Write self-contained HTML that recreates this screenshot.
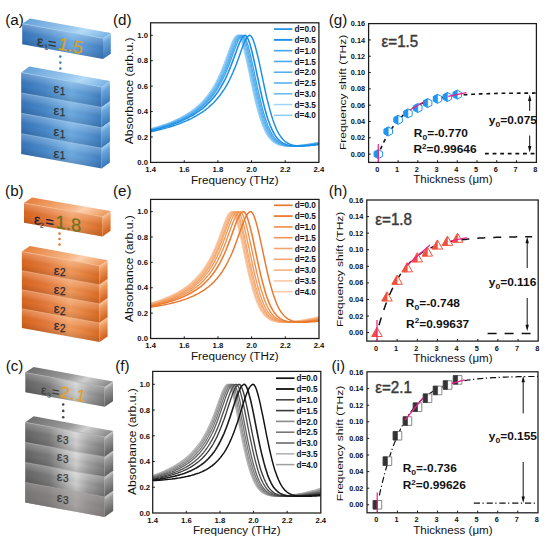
<!DOCTYPE html>
<html><head><meta charset="utf-8"><style>
html,body{margin:0;padding:0;background:#fff;}
svg{display:block;}
text{font-family:"Liberation Sans", sans-serif;}
</style></head><body>
<svg width="550" height="545" viewBox="0 0 550 545">
<rect width="550" height="545" fill="#fff"/>
<defs>
<clipPath id="cd"><rect x="150.60" y="22.80" width="168.30" height="139.60"/></clipPath>
<clipPath id="ce"><rect x="150.60" y="199.40" width="168.40" height="139.10"/></clipPath>
<clipPath id="cf"><rect x="152.70" y="371.40" width="168.10" height="141.60"/></clipPath>
</defs>
<g clip-path="url(#cd)">
<path d="M150.6,128.8 L151.8,128.5 L153.0,128.2 L154.2,127.8 L155.4,127.5 L156.7,127.1 L157.9,126.8 L159.1,126.4 L160.3,126.0 L161.5,125.6 L162.7,125.2 L163.9,124.8 L165.1,124.4 L166.3,123.9 L167.6,123.5 L168.8,123.0 L170.0,122.5 L171.2,122.1 L172.4,121.6 L173.6,121.0 L174.8,120.5 L176.0,119.9 L177.2,119.4 L178.4,118.8 L179.7,118.2 L180.9,117.6 L182.1,116.9 L183.3,116.2 L184.5,115.6 L185.7,114.8 L186.9,114.1 L188.1,113.3 L189.3,112.5 L190.6,111.7 L191.8,110.8 L193.0,109.9 L194.2,109.0 L195.4,108.0 L196.6,107.0 L197.8,106.0 L199.0,104.9 L200.2,103.7 L201.5,102.5 L202.7,101.3 L203.9,99.9 L205.1,98.5 L206.3,97.1 L207.5,95.6 L208.7,93.9 L209.9,92.2 L211.1,90.5 L212.4,88.6 L213.6,86.6 L214.8,84.5 L216.0,82.3 L217.2,79.9 L218.4,77.4 L219.6,74.8 L220.8,72.1 L222.0,69.2 L223.2,66.1 L224.5,63.0 L225.7,59.7 L226.9,56.4 L228.1,53.0 L229.3,49.6 L230.5,46.4 L231.7,43.3 L232.9,40.6 L234.1,38.3 L235.4,36.6 L236.6,35.6 L237.8,35.3 L239.0,36.3 L240.2,38.4 L241.4,41.4 L242.6,45.1 L243.8,49.4 L245.0,54.3 L246.3,59.5 L247.5,65.0 L248.7,70.7 L249.9,76.4 L251.1,82.2 L252.3,87.8 L253.5,93.3 L254.7,98.5 L255.9,103.5 L257.1,108.2 L258.4,112.6 L259.6,116.7 L260.8,120.4 L262.0,123.8 L263.2,126.9 L264.4,129.6 L265.6,132.1 L266.8,134.2 L268.0,136.1 L269.3,137.8 L270.5,139.2 L271.7,140.4 L272.9,141.5 L274.1,142.3 L275.3,143.1 L276.5,143.7 L277.7,144.3 L278.9,144.7 L280.2,145.0 L281.4,145.3 L282.6,145.6 L283.8,145.7 L285.0,145.9 L286.2,145.9 L287.4,146.0 L288.6,146.0 L289.8,146.0 L291.1,146.0 L292.3,146.0 L293.5,145.9 L294.7,145.8 L295.9,145.8 L297.1,145.7 L298.3,145.5 L299.5,145.4 L300.7,145.3 L301.9,145.2 L303.2,145.0 L304.4,144.9 L305.6,144.7 L306.8,144.5 L308.0,144.4 L309.2,144.2 L310.4,144.0 L311.6,143.8 L312.8,143.6 L314.1,143.3 L315.3,143.1 L316.5,142.9 L317.7,142.6 L318.9,142.4" fill="none" stroke="#aadaf8" stroke-width="1.35" stroke-linejoin="round"/>
<path d="M150.6,129.0 L151.8,128.7 L153.0,128.3 L154.2,128.0 L155.4,127.6 L156.7,127.3 L157.9,126.9 L159.1,126.6 L160.3,126.2 L161.5,125.8 L162.7,125.4 L163.9,125.0 L165.1,124.6 L166.3,124.1 L167.6,123.7 L168.8,123.2 L170.0,122.7 L171.2,122.3 L172.4,121.8 L173.6,121.3 L174.8,120.7 L176.0,120.2 L177.2,119.6 L178.4,119.0 L179.7,118.4 L180.9,117.8 L182.1,117.2 L183.3,116.5 L184.5,115.8 L185.7,115.1 L186.9,114.4 L188.1,113.7 L189.3,112.9 L190.6,112.1 L191.8,111.2 L193.0,110.3 L194.2,109.4 L195.4,108.5 L196.6,107.5 L197.8,106.4 L199.0,105.3 L200.2,104.2 L201.5,103.0 L202.7,101.8 L203.9,100.5 L205.1,99.1 L206.3,97.7 L207.5,96.2 L208.7,94.6 L209.9,93.0 L211.1,91.2 L212.4,89.4 L213.6,87.4 L214.8,85.4 L216.0,83.2 L217.2,80.9 L218.4,78.5 L219.6,75.9 L220.8,73.2 L222.0,70.4 L223.2,67.4 L224.5,64.3 L225.7,61.1 L226.9,57.8 L228.1,54.4 L229.3,51.0 L230.5,47.7 L231.7,44.6 L232.9,41.7 L234.1,39.2 L235.4,37.2 L236.6,35.9 L237.8,35.3 L239.0,35.7 L240.2,37.4 L241.4,40.0 L242.6,43.4 L243.8,47.5 L245.0,52.2 L246.3,57.3 L247.5,62.7 L248.7,68.3 L249.9,74.0 L251.1,79.8 L252.3,85.5 L253.5,91.0 L254.7,96.4 L255.9,101.5 L257.1,106.3 L258.4,110.8 L259.6,115.0 L260.8,118.9 L262.0,122.4 L263.2,125.6 L264.4,128.5 L265.6,131.1 L266.8,133.3 L268.0,135.3 L269.3,137.1 L270.5,138.6 L271.7,139.9 L272.9,141.0 L274.1,142.0 L275.3,142.8 L276.5,143.5 L277.7,144.0 L278.9,144.5 L280.2,144.9 L281.4,145.2 L282.6,145.5 L283.8,145.7 L285.0,145.8 L286.2,145.9 L287.4,146.0 L288.6,146.0 L289.8,146.0 L291.1,146.0 L292.3,146.0 L293.5,145.9 L294.7,145.9 L295.9,145.8 L297.1,145.7 L298.3,145.6 L299.5,145.5 L300.7,145.4 L301.9,145.2 L303.2,145.1 L304.4,144.9 L305.6,144.8 L306.8,144.6 L308.0,144.4 L309.2,144.2 L310.4,144.1 L311.6,143.8 L312.8,143.6 L314.1,143.4 L315.3,143.2 L316.5,143.0 L317.7,142.7 L318.9,142.5" fill="none" stroke="#9cd2f6" stroke-width="1.35" stroke-linejoin="round"/>
<path d="M150.6,129.1 L151.8,128.8 L153.0,128.4 L154.2,128.1 L155.4,127.8 L156.7,127.4 L157.9,127.0 L159.1,126.7 L160.3,126.3 L161.5,125.9 L162.7,125.5 L163.9,125.1 L165.1,124.7 L166.3,124.3 L167.6,123.8 L168.8,123.4 L170.0,122.9 L171.2,122.4 L172.4,121.9 L173.6,121.4 L174.8,120.9 L176.0,120.3 L177.2,119.8 L178.4,119.2 L179.7,118.6 L180.9,118.0 L182.1,117.4 L183.3,116.7 L184.5,116.1 L185.7,115.4 L186.9,114.6 L188.1,113.9 L189.3,113.1 L190.6,112.3 L191.8,111.5 L193.0,110.6 L194.2,109.7 L195.4,108.8 L196.6,107.8 L197.8,106.7 L199.0,105.7 L200.2,104.6 L201.5,103.4 L202.7,102.2 L203.9,100.9 L205.1,99.6 L206.3,98.2 L207.5,96.7 L208.7,95.1 L209.9,93.5 L211.1,91.8 L212.4,89.9 L213.6,88.0 L214.8,86.0 L216.0,83.9 L217.2,81.6 L218.4,79.2 L219.6,76.7 L220.8,74.1 L222.0,71.3 L223.2,68.3 L224.5,65.3 L225.7,62.1 L226.9,58.8 L228.1,55.4 L229.3,52.1 L230.5,48.7 L231.7,45.5 L232.9,42.5 L234.1,39.9 L235.4,37.8 L236.6,36.3 L237.8,35.4 L239.0,35.5 L240.2,36.8 L241.4,39.1 L242.6,42.3 L243.8,46.2 L245.0,50.7 L246.3,55.7 L247.5,61.0 L248.7,66.6 L249.9,72.3 L251.1,78.0 L252.3,83.7 L253.5,89.3 L254.7,94.8 L255.9,99.9 L257.1,104.9 L258.4,109.5 L259.6,113.8 L260.8,117.8 L262.0,121.4 L263.2,124.7 L264.4,127.7 L265.6,130.3 L266.8,132.7 L268.0,134.8 L269.3,136.6 L270.5,138.2 L271.7,139.5 L272.9,140.7 L274.1,141.7 L275.3,142.6 L276.5,143.3 L277.7,143.9 L278.9,144.4 L280.2,144.8 L281.4,145.1 L282.6,145.4 L283.8,145.6 L285.0,145.8 L286.2,145.9 L287.4,146.0 L288.6,146.0 L289.8,146.0 L291.1,146.0 L292.3,146.0 L293.5,145.9 L294.7,145.9 L295.9,145.8 L297.1,145.7 L298.3,145.6 L299.5,145.5 L300.7,145.4 L301.9,145.3 L303.2,145.1 L304.4,145.0 L305.6,144.8 L306.8,144.7 L308.0,144.5 L309.2,144.3 L310.4,144.1 L311.6,143.9 L312.8,143.7 L314.1,143.5 L315.3,143.3 L316.5,143.0 L317.7,142.8 L318.9,142.6" fill="none" stroke="#8ac9f4" stroke-width="1.35" stroke-linejoin="round"/>
<path d="M150.6,129.3 L151.8,129.0 L153.0,128.7 L154.2,128.3 L155.4,128.0 L156.7,127.7 L157.9,127.3 L159.1,126.9 L160.3,126.6 L161.5,126.2 L162.7,125.8 L163.9,125.4 L165.1,125.0 L166.3,124.6 L167.6,124.1 L168.8,123.7 L170.0,123.2 L171.2,122.8 L172.4,122.3 L173.6,121.8 L174.8,121.3 L176.0,120.7 L177.2,120.2 L178.4,119.6 L179.7,119.1 L180.9,118.5 L182.1,117.8 L183.3,117.2 L184.5,116.6 L185.7,115.9 L186.9,115.2 L188.1,114.4 L189.3,113.7 L190.6,112.9 L191.8,112.1 L193.0,111.2 L194.2,110.4 L195.4,109.4 L196.6,108.5 L197.8,107.5 L199.0,106.5 L200.2,105.4 L201.5,104.2 L202.7,103.1 L203.9,101.8 L205.1,100.5 L206.3,99.2 L207.5,97.7 L208.7,96.3 L209.9,94.7 L211.1,93.0 L212.4,91.3 L213.6,89.4 L214.8,87.5 L216.0,85.4 L217.2,83.3 L218.4,81.0 L219.6,78.5 L220.8,76.0 L222.0,73.3 L223.2,70.5 L224.5,67.5 L225.7,64.4 L226.9,61.2 L228.1,57.9 L229.3,54.5 L230.5,51.1 L231.7,47.8 L232.9,44.7 L234.1,41.8 L235.4,39.3 L236.6,37.3 L237.8,36.0 L239.0,35.3 L240.2,35.7 L241.4,37.3 L242.6,39.9 L243.8,43.3 L245.0,47.4 L246.3,52.1 L247.5,57.1 L248.7,62.5 L249.9,68.2 L251.1,73.9 L252.3,79.6 L253.5,85.3 L254.7,90.9 L255.9,96.2 L257.1,101.3 L258.4,106.2 L259.6,110.7 L260.8,114.9 L262.0,118.8 L263.2,122.3 L264.4,125.6 L265.6,128.4 L266.8,131.0 L268.0,133.3 L269.3,135.3 L270.5,137.0 L271.7,138.6 L272.9,139.9 L274.1,141.0 L275.3,142.0 L276.5,142.8 L277.7,143.5 L278.9,144.0 L280.2,144.5 L281.4,144.9 L282.6,145.2 L283.8,145.5 L285.0,145.7 L286.2,145.8 L287.4,145.9 L288.6,146.0 L289.8,146.0 L291.1,146.0 L292.3,146.0 L293.5,146.0 L294.7,145.9 L295.9,145.9 L297.1,145.8 L298.3,145.7 L299.5,145.6 L300.7,145.5 L301.9,145.4 L303.2,145.2 L304.4,145.1 L305.6,144.9 L306.8,144.8 L308.0,144.6 L309.2,144.4 L310.4,144.2 L311.6,144.1 L312.8,143.9 L314.1,143.6 L315.3,143.4 L316.5,143.2 L317.7,143.0 L318.9,142.7" fill="none" stroke="#78c0f2" stroke-width="1.35" stroke-linejoin="round"/>
<path d="M150.6,129.6 L151.8,129.3 L153.0,128.9 L154.2,128.6 L155.4,128.3 L156.7,127.9 L157.9,127.6 L159.1,127.2 L160.3,126.9 L161.5,126.5 L162.7,126.1 L163.9,125.7 L165.1,125.3 L166.3,124.9 L167.6,124.5 L168.8,124.1 L170.0,123.6 L171.2,123.2 L172.4,122.7 L173.6,122.2 L174.8,121.7 L176.0,121.2 L177.2,120.7 L178.4,120.1 L179.7,119.5 L180.9,119.0 L182.1,118.4 L183.3,117.7 L184.5,117.1 L185.7,116.4 L186.9,115.8 L188.1,115.1 L189.3,114.3 L190.6,113.6 L191.8,112.8 L193.0,112.0 L194.2,111.1 L195.4,110.2 L196.6,109.3 L197.8,108.3 L199.0,107.3 L200.2,106.3 L201.5,105.2 L202.7,104.1 L203.9,102.9 L205.1,101.6 L206.3,100.3 L207.5,99.0 L208.7,97.5 L209.9,96.0 L211.1,94.4 L212.4,92.8 L213.6,91.0 L214.8,89.1 L216.0,87.2 L217.2,85.1 L218.4,82.9 L219.6,80.6 L220.8,78.2 L222.0,75.6 L223.2,72.9 L224.5,70.0 L225.7,67.0 L226.9,63.9 L228.1,60.7 L229.3,57.4 L230.5,54.0 L231.7,50.6 L232.9,47.3 L234.1,44.2 L235.4,41.4 L236.6,38.9 L237.8,37.0 L239.0,35.8 L240.2,35.3 L241.4,35.9 L242.6,37.7 L243.8,40.4 L245.0,43.9 L246.3,48.1 L247.5,52.8 L248.7,58.0 L249.9,63.4 L251.1,69.0 L252.3,74.8 L253.5,80.5 L254.7,86.2 L255.9,91.7 L257.1,97.0 L258.4,102.1 L259.6,106.9 L260.8,111.4 L262.0,115.5 L263.2,119.4 L264.4,122.9 L265.6,126.0 L266.8,128.8 L268.0,131.4 L269.3,133.6 L270.5,135.6 L271.7,137.3 L272.9,138.8 L274.1,140.1 L275.3,141.2 L276.5,142.1 L277.7,142.9 L278.9,143.6 L280.2,144.1 L281.4,144.6 L282.6,144.9 L283.8,145.3 L285.0,145.5 L286.2,145.7 L287.4,145.8 L288.6,145.9 L289.8,146.0 L291.1,146.0 L292.3,146.0 L293.5,146.0 L294.7,146.0 L295.9,145.9 L297.1,145.9 L298.3,145.8 L299.5,145.7 L300.7,145.6 L301.9,145.5 L303.2,145.3 L304.4,145.2 L305.6,145.1 L306.8,144.9 L308.0,144.8 L309.2,144.6 L310.4,144.4 L311.6,144.2 L312.8,144.0 L314.1,143.8 L315.3,143.6 L316.5,143.4 L317.7,143.2 L318.9,142.9" fill="none" stroke="#66b7f0" stroke-width="1.35" stroke-linejoin="round"/>
<path d="M150.6,129.8 L151.8,129.5 L153.0,129.2 L154.2,128.9 L155.4,128.6 L156.7,128.3 L157.9,127.9 L159.1,127.6 L160.3,127.2 L161.5,126.8 L162.7,126.5 L163.9,126.1 L165.1,125.7 L166.3,125.3 L167.6,124.9 L168.8,124.5 L170.0,124.0 L171.2,123.6 L172.4,123.1 L173.6,122.6 L174.8,122.2 L176.0,121.7 L177.2,121.1 L178.4,120.6 L179.7,120.1 L180.9,119.5 L182.1,118.9 L183.3,118.3 L184.5,117.7 L185.7,117.0 L186.9,116.4 L188.1,115.7 L189.3,115.0 L190.6,114.2 L191.8,113.5 L193.0,112.7 L194.2,111.9 L195.4,111.0 L196.6,110.1 L197.8,109.2 L199.0,108.2 L200.2,107.2 L201.5,106.2 L202.7,105.1 L203.9,104.0 L205.1,102.8 L206.3,101.5 L207.5,100.2 L208.7,98.8 L209.9,97.4 L211.1,95.9 L212.4,94.3 L213.6,92.6 L214.8,90.8 L216.0,89.0 L217.2,87.0 L218.4,84.9 L219.6,82.7 L220.8,80.4 L222.0,77.9 L223.2,75.3 L224.5,72.6 L225.7,69.7 L226.9,66.7 L228.1,63.6 L229.3,60.4 L230.5,57.0 L231.7,53.7 L232.9,50.3 L234.1,47.0 L235.4,43.9 L236.6,41.1 L237.8,38.7 L239.0,36.9 L240.2,35.7 L241.4,35.3 L242.6,36.0 L243.8,37.9 L245.0,40.7 L246.3,44.3 L247.5,48.5 L248.7,53.3 L249.9,58.5 L251.1,63.9 L252.3,69.6 L253.5,75.3 L254.7,81.0 L255.9,86.7 L257.1,92.2 L258.4,97.5 L259.6,102.6 L260.8,107.3 L262.0,111.8 L263.2,115.9 L264.4,119.7 L265.6,123.2 L266.8,126.3 L268.0,129.1 L269.3,131.6 L270.5,133.8 L271.7,135.8 L272.9,137.4 L274.1,138.9 L275.3,140.2 L276.5,141.3 L277.7,142.2 L278.9,143.0 L280.2,143.6 L281.4,144.2 L282.6,144.6 L283.8,145.0 L285.0,145.3 L286.2,145.5 L287.4,145.7 L288.6,145.8 L289.8,145.9 L291.1,146.0 L292.3,146.0 L293.5,146.0 L294.7,146.0 L295.9,146.0 L297.1,145.9 L298.3,145.9 L299.5,145.8 L300.7,145.7 L301.9,145.6 L303.2,145.5 L304.4,145.3 L305.6,145.2 L306.8,145.0 L308.0,144.9 L309.2,144.7 L310.4,144.6 L311.6,144.4 L312.8,144.2 L314.1,144.0 L315.3,143.8 L316.5,143.6 L317.7,143.4 L318.9,143.1" fill="none" stroke="#54adee" stroke-width="1.35" stroke-linejoin="round"/>
<path d="M150.6,130.2 L151.8,129.9 L153.0,129.6 L154.2,129.3 L155.4,128.9 L156.7,128.6 L157.9,128.3 L159.1,128.0 L160.3,127.6 L161.5,127.3 L162.7,126.9 L163.9,126.5 L165.1,126.1 L166.3,125.7 L167.6,125.3 L168.8,124.9 L170.0,124.5 L171.2,124.1 L172.4,123.6 L173.6,123.2 L174.8,122.7 L176.0,122.2 L177.2,121.7 L178.4,121.2 L179.7,120.7 L180.9,120.1 L182.1,119.6 L183.3,119.0 L184.5,118.4 L185.7,117.8 L186.9,117.1 L188.1,116.5 L189.3,115.8 L190.6,115.1 L191.8,114.3 L193.0,113.6 L194.2,112.8 L195.4,112.0 L196.6,111.1 L197.8,110.2 L199.0,109.3 L200.2,108.4 L201.5,107.4 L202.7,106.3 L203.9,105.2 L205.1,104.1 L206.3,102.9 L207.5,101.7 L208.7,100.4 L209.9,99.0 L211.1,97.5 L212.4,96.0 L213.6,94.5 L214.8,92.8 L216.0,91.0 L217.2,89.2 L218.4,87.2 L219.6,85.1 L220.8,83.0 L222.0,80.6 L223.2,78.2 L224.5,75.6 L225.7,72.9 L226.9,70.1 L228.1,67.1 L229.3,64.0 L230.5,60.7 L231.7,57.4 L232.9,54.0 L234.1,50.7 L235.4,47.4 L236.6,44.2 L237.8,41.4 L239.0,39.0 L240.2,37.1 L241.4,35.8 L242.6,35.3 L243.8,35.9 L245.0,37.6 L246.3,40.3 L247.5,43.9 L248.7,48.0 L249.9,52.7 L251.1,57.9 L252.3,63.3 L253.5,68.9 L254.7,74.7 L255.9,80.4 L257.1,86.1 L258.4,91.6 L259.6,96.9 L260.8,102.0 L262.0,106.8 L263.2,111.3 L264.4,115.5 L265.6,119.3 L266.8,122.8 L268.0,126.0 L269.3,128.8 L270.5,131.3 L271.7,133.6 L272.9,135.5 L274.1,137.3 L275.3,138.8 L276.5,140.0 L277.7,141.1 L278.9,142.1 L280.2,142.9 L281.4,143.5 L282.6,144.1 L283.8,144.6 L285.0,144.9 L286.2,145.3 L287.4,145.5 L288.6,145.7 L289.8,145.8 L291.1,145.9 L292.3,146.0 L293.5,146.0 L294.7,146.0 L295.9,146.0 L297.1,146.0 L298.3,145.9 L299.5,145.9 L300.7,145.8 L301.9,145.7 L303.2,145.6 L304.4,145.5 L305.6,145.3 L306.8,145.2 L308.0,145.1 L309.2,144.9 L310.4,144.8 L311.6,144.6 L312.8,144.4 L314.1,144.2 L315.3,144.0 L316.5,143.8 L317.7,143.6 L318.9,143.4" fill="none" stroke="#42a3eb" stroke-width="1.35" stroke-linejoin="round"/>
<path d="M150.6,130.7 L151.8,130.4 L153.0,130.2 L154.2,129.9 L155.4,129.6 L156.7,129.2 L157.9,128.9 L159.1,128.6 L160.3,128.3 L161.5,127.9 L162.7,127.6 L163.9,127.2 L165.1,126.9 L166.3,126.5 L167.6,126.1 L168.8,125.7 L170.0,125.3 L171.2,124.9 L172.4,124.5 L173.6,124.0 L174.8,123.6 L176.0,123.1 L177.2,122.7 L178.4,122.2 L179.7,121.7 L180.9,121.2 L182.1,120.6 L183.3,120.1 L184.5,119.5 L185.7,118.9 L186.9,118.3 L188.1,117.7 L189.3,117.1 L190.6,116.4 L191.8,115.7 L193.0,115.0 L194.2,114.3 L195.4,113.5 L196.6,112.7 L197.8,111.9 L199.0,111.1 L200.2,110.2 L201.5,109.3 L202.7,108.3 L203.9,107.3 L205.1,106.3 L206.3,105.2 L207.5,104.0 L208.7,102.8 L209.9,101.6 L211.1,100.3 L212.4,98.9 L213.6,97.5 L214.8,96.0 L216.0,94.4 L217.2,92.7 L218.4,90.9 L219.6,89.1 L220.8,87.1 L222.0,85.0 L223.2,82.8 L224.5,80.5 L225.7,78.1 L226.9,75.5 L228.1,72.8 L229.3,69.9 L230.5,66.9 L231.7,63.8 L232.9,60.6 L234.1,57.2 L235.4,53.9 L236.6,50.5 L237.8,47.2 L239.0,44.1 L240.2,41.3 L241.4,38.9 L242.6,37.0 L243.8,35.8 L245.0,35.3 L246.3,35.9 L247.5,37.8 L248.7,40.5 L249.9,44.1 L251.1,48.3 L252.3,53.0 L253.5,58.2 L254.7,63.6 L255.9,69.2 L257.1,75.0 L258.4,80.7 L259.6,86.4 L260.8,91.9 L262.0,97.2 L263.2,102.3 L264.4,107.1 L265.6,111.5 L266.8,115.7 L268.0,119.5 L269.3,123.0 L270.5,126.1 L271.7,128.9 L272.9,131.5 L274.1,133.7 L275.3,135.6 L276.5,137.4 L277.7,138.8 L278.9,140.1 L280.2,141.2 L281.4,142.1 L282.6,142.9 L283.8,143.6 L285.0,144.1 L286.2,144.6 L287.4,145.0 L288.6,145.3 L289.8,145.5 L291.1,145.7 L292.3,145.8 L293.5,145.9 L294.7,146.0 L295.9,146.0 L297.1,146.0 L298.3,146.0 L299.5,146.0 L300.7,145.9 L301.9,145.9 L303.2,145.8 L304.4,145.7 L305.6,145.6 L306.8,145.5 L308.0,145.3 L309.2,145.2 L310.4,145.1 L311.6,144.9 L312.8,144.7 L314.1,144.6 L315.3,144.4 L316.5,144.2 L317.7,144.0 L318.9,143.8" fill="none" stroke="#1e8fe6" stroke-width="1.60" stroke-linejoin="round"/>
<path d="M150.6,131.8 L151.8,131.5 L153.0,131.3 L154.2,131.0 L155.4,130.7 L156.7,130.4 L157.9,130.1 L159.1,129.8 L160.3,129.5 L161.5,129.2 L162.7,128.9 L163.9,128.6 L165.1,128.2 L166.3,127.9 L167.6,127.6 L168.8,127.2 L170.0,126.8 L171.2,126.5 L172.4,126.1 L173.6,125.7 L174.8,125.3 L176.0,124.9 L177.2,124.4 L178.4,124.0 L179.7,123.6 L180.9,123.1 L182.1,122.6 L183.3,122.1 L184.5,121.6 L185.7,121.1 L186.9,120.6 L188.1,120.0 L189.3,119.5 L190.6,118.9 L191.8,118.3 L193.0,117.7 L194.2,117.0 L195.4,116.3 L196.6,115.7 L197.8,114.9 L199.0,114.2 L200.2,113.4 L201.5,112.7 L202.7,111.8 L203.9,111.0 L205.1,110.1 L206.3,109.2 L207.5,108.2 L208.7,107.2 L209.9,106.1 L211.1,105.0 L212.4,103.9 L213.6,102.7 L214.8,101.4 L216.0,100.1 L217.2,98.8 L218.4,97.3 L219.6,95.8 L220.8,94.2 L222.0,92.5 L223.2,90.7 L224.5,88.9 L225.7,86.9 L226.9,84.8 L228.1,82.6 L229.3,80.3 L230.5,77.8 L231.7,75.2 L232.9,72.5 L234.1,69.6 L235.4,66.6 L236.6,63.5 L237.8,60.2 L239.0,56.9 L240.2,53.5 L241.4,50.1 L242.6,46.8 L243.8,43.8 L245.0,41.0 L246.3,38.6 L247.5,36.8 L248.7,35.7 L249.9,35.3 L251.1,36.1 L252.3,38.0 L253.5,40.9 L254.7,44.5 L255.9,48.8 L257.1,53.5 L258.4,58.7 L259.6,64.2 L260.8,69.9 L262.0,75.6 L263.2,81.3 L264.4,87.0 L265.6,92.5 L266.8,97.8 L268.0,102.8 L269.3,107.6 L270.5,112.0 L271.7,116.1 L272.9,119.9 L274.1,123.3 L275.3,126.4 L276.5,129.2 L277.7,131.7 L278.9,133.9 L280.2,135.8 L281.4,137.5 L282.6,139.0 L283.8,140.2 L285.0,141.3 L286.2,142.2 L287.4,143.0 L288.6,143.6 L289.8,144.2 L291.1,144.6 L292.3,145.0 L293.5,145.3 L294.7,145.5 L295.9,145.7 L297.1,145.8 L298.3,145.9 L299.5,146.0 L300.7,146.0 L301.9,146.0 L303.2,146.0 L304.4,146.0 L305.6,145.9 L306.8,145.8 L308.0,145.8 L309.2,145.7 L310.4,145.6 L311.6,145.4 L312.8,145.3 L314.1,145.2 L315.3,145.0 L316.5,144.9 L317.7,144.7 L318.9,144.6" fill="none" stroke="#1b8fe4" stroke-width="1.45" stroke-linejoin="round"/>
</g>
<g clip-path="url(#ce)">
<path d="M150.6,303.3 L151.8,302.9 L153.0,302.6 L154.2,302.2 L155.4,301.8 L156.7,301.4 L157.9,301.0 L159.1,300.5 L160.3,300.1 L161.5,299.7 L162.7,299.2 L163.9,298.7 L165.1,298.2 L166.3,297.7 L167.6,297.2 L168.8,296.7 L170.0,296.1 L171.2,295.6 L172.4,295.0 L173.6,294.4 L174.8,293.8 L176.0,293.1 L177.3,292.4 L178.5,291.8 L179.7,291.0 L180.9,290.3 L182.1,289.5 L183.3,288.7 L184.5,287.9 L185.7,287.1 L186.9,286.2 L188.2,285.2 L189.4,284.3 L190.6,283.3 L191.8,282.2 L193.0,281.1 L194.2,280.0 L195.4,278.8 L196.6,277.5 L197.8,276.2 L199.1,274.8 L200.3,273.3 L201.5,271.8 L202.7,270.2 L203.9,268.5 L205.1,266.7 L206.3,264.9 L207.5,262.9 L208.8,260.8 L210.0,258.6 L211.2,256.2 L212.4,253.8 L213.6,251.2 L214.8,248.4 L216.0,245.5 L217.2,242.5 L218.4,239.4 L219.7,236.1 L220.9,232.8 L222.1,229.4 L223.3,226.0 L224.5,222.8 L225.7,219.7 L226.9,217.0 L228.1,214.7 L229.3,213.0 L230.6,211.9 L231.8,211.6 L233.0,212.5 L234.2,214.6 L235.4,217.5 L236.6,221.2 L237.8,225.5 L239.0,230.4 L240.3,235.6 L241.5,241.1 L242.7,246.7 L243.9,252.5 L245.1,258.2 L246.3,263.8 L247.5,269.3 L248.7,274.5 L249.9,279.5 L251.2,284.3 L252.4,288.7 L253.6,292.7 L254.8,296.5 L256.0,299.9 L257.2,302.9 L258.4,305.7 L259.6,308.1 L260.8,310.3 L262.1,312.2 L263.3,313.8 L264.5,315.3 L265.7,316.5 L266.9,317.5 L268.1,318.4 L269.3,319.2 L270.5,319.8 L271.8,320.4 L273.0,320.8 L274.2,321.2 L275.4,321.4 L276.6,321.7 L277.8,321.8 L279.0,322.0 L280.2,322.1 L281.4,322.1 L282.7,322.1 L283.9,322.1 L285.1,322.1 L286.3,322.1 L287.5,322.0 L288.7,321.9 L289.9,321.8 L291.1,321.7 L292.3,321.6 L293.6,321.5 L294.8,321.3 L296.0,321.2 L297.2,321.0 L298.4,320.9 L299.6,320.7 L300.8,320.5 L302.0,320.3 L303.3,320.1 L304.5,319.9 L305.7,319.7 L306.9,319.4 L308.1,319.2 L309.3,319.0 L310.5,318.7 L311.7,318.4 L312.9,318.2 L314.2,317.9 L315.4,317.6 L316.6,317.3 L317.8,317.0 L319.0,316.7" fill="none" stroke="#facdac" stroke-width="1.35" stroke-linejoin="round"/>
<path d="M150.6,303.5 L151.8,303.2 L153.0,302.8 L154.2,302.4 L155.4,302.0 L156.7,301.7 L157.9,301.3 L159.1,300.8 L160.3,300.4 L161.5,300.0 L162.7,299.5 L163.9,299.1 L165.1,298.6 L166.3,298.1 L167.6,297.6 L168.8,297.1 L170.0,296.5 L171.2,296.0 L172.4,295.4 L173.6,294.8 L174.8,294.2 L176.0,293.6 L177.3,293.0 L178.5,292.3 L179.7,291.6 L180.9,290.9 L182.1,290.1 L183.3,289.3 L184.5,288.5 L185.7,287.7 L186.9,286.8 L188.2,285.9 L189.4,285.0 L190.6,284.0 L191.8,282.9 L193.0,281.9 L194.2,280.7 L195.4,279.6 L196.6,278.3 L197.8,277.1 L199.1,275.7 L200.3,274.3 L201.5,272.8 L202.7,271.2 L203.9,269.5 L205.1,267.8 L206.3,266.0 L207.5,264.0 L208.8,262.0 L210.0,259.8 L211.2,257.5 L212.4,255.1 L213.6,252.5 L214.8,249.8 L216.0,247.0 L217.2,244.0 L218.4,240.9 L219.7,237.7 L220.9,234.4 L222.1,231.0 L223.3,227.7 L224.5,224.4 L225.7,221.2 L226.9,218.3 L228.1,215.8 L229.3,213.8 L230.6,212.4 L231.8,211.7 L233.0,211.9 L234.2,213.4 L235.4,215.9 L236.6,219.2 L237.8,223.2 L239.0,227.8 L240.3,232.9 L241.5,238.2 L242.7,243.8 L243.9,249.5 L245.1,255.2 L246.3,260.9 L247.5,266.5 L248.7,271.9 L249.9,277.0 L251.2,281.9 L252.4,286.4 L253.6,290.7 L254.8,294.6 L256.0,298.1 L257.2,301.4 L258.4,304.3 L259.6,306.9 L260.8,309.2 L262.1,311.2 L263.3,313.0 L264.5,314.6 L265.7,315.9 L266.9,317.0 L268.1,318.0 L269.3,318.8 L270.5,319.5 L271.8,320.1 L273.0,320.6 L274.2,321.0 L275.4,321.3 L276.6,321.6 L277.8,321.8 L279.0,321.9 L280.2,322.0 L281.4,322.1 L282.7,322.1 L283.9,322.1 L285.1,322.1 L286.3,322.1 L287.5,322.0 L288.7,322.0 L289.9,321.9 L291.1,321.8 L292.3,321.7 L293.6,321.6 L294.8,321.5 L296.0,321.3 L297.2,321.2 L298.4,321.0 L299.6,320.8 L300.8,320.7 L302.0,320.5 L303.3,320.3 L304.5,320.1 L305.7,319.9 L306.9,319.7 L308.1,319.5 L309.3,319.2 L310.5,319.0 L311.7,318.7 L312.9,318.5 L314.2,318.2 L315.4,317.9 L316.6,317.7 L317.8,317.4 L319.0,317.1" fill="none" stroke="#f9c49c" stroke-width="1.35" stroke-linejoin="round"/>
<path d="M150.6,303.8 L151.8,303.4 L153.0,303.1 L154.2,302.7 L155.4,302.3 L156.7,302.0 L157.9,301.6 L159.1,301.2 L160.3,300.8 L161.5,300.3 L162.7,299.9 L163.9,299.5 L165.1,299.0 L166.3,298.5 L167.6,298.0 L168.8,297.5 L170.0,297.0 L171.2,296.5 L172.4,295.9 L173.6,295.4 L174.8,294.8 L176.0,294.2 L177.3,293.5 L178.5,292.9 L179.7,292.2 L180.9,291.5 L182.1,290.8 L183.3,290.0 L184.5,289.2 L185.7,288.4 L186.9,287.6 L188.2,286.7 L189.4,285.8 L190.6,284.8 L191.8,283.8 L193.0,282.8 L194.2,281.7 L195.4,280.5 L196.6,279.3 L197.8,278.1 L199.1,276.7 L200.3,275.4 L201.5,273.9 L202.7,272.4 L203.9,270.8 L205.1,269.0 L206.3,267.3 L207.5,265.4 L208.8,263.4 L210.0,261.2 L211.2,259.0 L212.4,256.7 L213.6,254.2 L214.8,251.5 L216.0,248.8 L217.2,245.9 L218.4,242.8 L219.7,239.7 L220.9,236.4 L222.1,233.1 L223.3,229.7 L224.5,226.3 L225.7,223.1 L226.9,220.0 L228.1,217.2 L229.3,214.9 L230.6,213.1 L231.8,212.0 L233.0,211.6 L234.2,212.3 L235.4,214.2 L236.6,217.1 L237.8,220.7 L239.0,224.9 L240.3,229.7 L241.5,234.8 L242.7,240.3 L243.9,245.9 L245.1,251.7 L246.3,257.4 L247.5,263.0 L248.7,268.5 L249.9,273.8 L251.2,278.9 L252.4,283.6 L253.6,288.1 L254.8,292.2 L256.0,296.0 L257.2,299.4 L258.4,302.5 L259.6,305.3 L260.8,307.8 L262.1,310.0 L263.3,311.9 L264.5,313.6 L265.7,315.1 L266.9,316.3 L268.1,317.4 L269.3,318.3 L270.5,319.1 L271.8,319.8 L273.0,320.3 L274.2,320.7 L275.4,321.1 L276.6,321.4 L277.8,321.6 L279.0,321.8 L280.2,322.0 L281.4,322.1 L282.7,322.1 L283.9,322.1 L285.1,322.2 L286.3,322.1 L287.5,322.1 L288.7,322.0 L289.9,322.0 L291.1,321.9 L292.3,321.8 L293.6,321.7 L294.8,321.6 L296.0,321.5 L297.2,321.3 L298.4,321.2 L299.6,321.0 L300.8,320.9 L302.0,320.7 L303.3,320.5 L304.5,320.3 L305.7,320.1 L306.9,319.9 L308.1,319.7 L309.3,319.5 L310.5,319.3 L311.7,319.0 L312.9,318.8 L314.2,318.5 L315.4,318.3 L316.6,318.0 L317.8,317.8 L319.0,317.5" fill="none" stroke="#f7ba8c" stroke-width="1.35" stroke-linejoin="round"/>
<path d="M150.6,304.2 L151.8,303.8 L153.0,303.5 L154.2,303.2 L155.4,302.8 L156.7,302.5 L157.9,302.1 L159.1,301.7 L160.3,301.3 L161.5,300.9 L162.7,300.5 L163.9,300.1 L165.1,299.6 L166.3,299.2 L167.6,298.7 L168.8,298.2 L170.0,297.7 L171.2,297.2 L172.4,296.7 L173.6,296.2 L174.8,295.6 L176.0,295.0 L177.3,294.4 L178.5,293.8 L179.7,293.2 L180.9,292.5 L182.1,291.8 L183.3,291.1 L184.5,290.3 L185.7,289.6 L186.9,288.8 L188.2,287.9 L189.4,287.1 L190.6,286.1 L191.8,285.2 L193.0,284.2 L194.2,283.2 L195.4,282.1 L196.6,280.9 L197.8,279.7 L199.1,278.5 L200.3,277.2 L201.5,275.8 L202.7,274.4 L203.9,272.8 L205.1,271.2 L206.3,269.5 L207.5,267.7 L208.8,265.8 L210.0,263.8 L211.2,261.7 L212.4,259.5 L213.6,257.1 L214.8,254.7 L216.0,252.0 L217.2,249.3 L218.4,246.4 L219.7,243.3 L220.9,240.2 L222.1,236.9 L223.3,233.6 L224.5,230.2 L225.7,226.8 L226.9,223.5 L228.1,220.5 L229.3,217.7 L230.6,215.3 L231.8,213.4 L233.0,212.2 L234.2,211.6 L235.4,212.1 L236.6,213.8 L237.8,216.5 L239.0,219.9 L240.3,224.1 L241.5,228.8 L242.7,233.9 L243.9,239.3 L245.1,244.9 L246.3,250.6 L247.5,256.4 L248.7,262.0 L249.9,267.5 L251.2,272.9 L252.4,278.0 L253.6,282.8 L254.8,287.3 L256.0,291.5 L257.2,295.3 L258.4,298.8 L259.6,302.0 L260.8,304.8 L262.1,307.4 L263.3,309.6 L264.5,311.6 L265.7,313.3 L266.9,314.8 L268.1,316.1 L269.3,317.2 L270.5,318.2 L271.8,319.0 L273.0,319.6 L274.2,320.2 L275.4,320.7 L276.6,321.1 L277.8,321.4 L279.0,321.6 L280.2,321.8 L281.4,321.9 L282.7,322.0 L283.9,322.1 L285.1,322.2 L286.3,322.2 L287.5,322.2 L288.7,322.1 L289.9,322.1 L291.1,322.0 L292.3,321.9 L293.6,321.8 L294.8,321.8 L296.0,321.6 L297.2,321.5 L298.4,321.4 L299.6,321.3 L300.8,321.1 L302.0,321.0 L303.3,320.8 L304.5,320.6 L305.7,320.5 L306.9,320.3 L308.1,320.1 L309.3,319.9 L310.5,319.7 L311.7,319.5 L312.9,319.2 L314.2,319.0 L315.4,318.8 L316.6,318.5 L317.8,318.3 L319.0,318.0" fill="none" stroke="#f6b07c" stroke-width="1.35" stroke-linejoin="round"/>
<path d="M150.6,304.5 L151.8,304.2 L153.0,303.9 L154.2,303.5 L155.4,303.2 L156.7,302.8 L157.9,302.5 L159.1,302.1 L160.3,301.8 L161.5,301.4 L162.7,301.0 L163.9,300.6 L165.1,300.2 L166.3,299.7 L167.6,299.3 L168.8,298.8 L170.0,298.4 L171.2,297.9 L172.4,297.4 L173.6,296.9 L174.8,296.3 L176.0,295.8 L177.3,295.2 L178.5,294.6 L179.7,294.0 L180.9,293.3 L182.1,292.7 L183.3,292.0 L184.5,291.3 L185.7,290.5 L186.9,289.8 L188.2,289.0 L189.4,288.1 L190.6,287.3 L191.8,286.4 L193.0,285.4 L194.2,284.4 L195.4,283.4 L196.6,282.3 L197.8,281.1 L199.1,279.9 L200.3,278.7 L201.5,277.4 L202.7,276.0 L203.9,274.5 L205.1,273.0 L206.3,271.4 L207.5,269.6 L208.8,267.8 L210.0,265.9 L211.2,263.9 L212.4,261.8 L213.6,259.5 L214.8,257.1 L216.0,254.6 L217.2,252.0 L218.4,249.2 L219.7,246.2 L220.9,243.2 L222.1,240.0 L223.3,236.7 L224.5,233.4 L225.7,230.0 L226.9,226.6 L228.1,223.4 L229.3,220.3 L230.6,217.5 L231.8,215.2 L233.0,213.3 L234.2,212.1 L235.4,211.6 L236.6,212.1 L237.8,213.9 L239.0,216.6 L240.3,220.1 L241.5,224.2 L242.7,228.9 L243.9,234.0 L245.1,239.4 L246.3,245.1 L247.5,250.8 L248.7,256.5 L249.9,262.2 L251.2,267.7 L252.4,273.0 L253.6,278.1 L254.8,282.9 L256.0,287.4 L257.2,291.6 L258.4,295.4 L259.6,298.9 L260.8,302.1 L262.1,304.9 L263.3,307.4 L264.5,309.7 L265.7,311.6 L266.9,313.4 L268.1,314.9 L269.3,316.2 L270.5,317.3 L271.8,318.2 L273.0,319.0 L274.2,319.7 L275.4,320.2 L276.6,320.7 L277.8,321.1 L279.0,321.4 L280.2,321.6 L281.4,321.8 L282.7,322.0 L283.9,322.1 L285.1,322.1 L286.3,322.2 L287.5,322.2 L288.7,322.2 L289.9,322.1 L291.1,322.1 L292.3,322.0 L293.6,322.0 L294.8,321.9 L296.0,321.8 L297.2,321.7 L298.4,321.6 L299.6,321.4 L300.8,321.3 L302.0,321.2 L303.3,321.0 L304.5,320.9 L305.7,320.7 L306.9,320.5 L308.1,320.4 L309.3,320.2 L310.5,320.0 L311.7,319.8 L312.9,319.6 L314.2,319.4 L315.4,319.2 L316.6,318.9 L317.8,318.7 L319.0,318.4" fill="none" stroke="#f4a56b" stroke-width="1.35" stroke-linejoin="round"/>
<path d="M150.6,305.0 L151.8,304.7 L153.0,304.4 L154.2,304.1 L155.4,303.8 L156.7,303.5 L157.9,303.1 L159.1,302.8 L160.3,302.4 L161.5,302.1 L162.7,301.7 L163.9,301.3 L165.1,300.9 L166.3,300.5 L167.6,300.1 L168.8,299.7 L170.0,299.3 L171.2,298.8 L172.4,298.4 L173.6,297.9 L174.8,297.4 L176.0,296.9 L177.3,296.3 L178.5,295.8 L179.7,295.2 L180.9,294.6 L182.1,294.0 L183.3,293.3 L184.5,292.7 L185.7,292.0 L186.9,291.3 L188.2,290.5 L189.4,289.8 L190.6,288.9 L191.8,288.1 L193.0,287.2 L194.2,286.3 L195.4,285.3 L196.6,284.3 L197.8,283.3 L199.1,282.2 L200.3,281.0 L201.5,279.8 L202.7,278.5 L203.9,277.2 L205.1,275.7 L206.3,274.2 L207.5,272.7 L208.8,271.0 L210.0,269.2 L211.2,267.4 L212.4,265.4 L213.6,263.3 L214.8,261.1 L216.0,258.8 L217.2,256.4 L218.4,253.8 L219.7,251.1 L220.9,248.2 L222.1,245.2 L223.3,242.1 L224.5,238.8 L225.7,235.5 L226.9,232.1 L228.1,228.7 L229.3,225.4 L230.6,222.2 L231.8,219.2 L233.0,216.6 L234.2,214.4 L235.4,212.8 L236.6,211.9 L237.8,211.6 L239.0,212.6 L240.3,214.7 L241.5,217.6 L242.7,221.4 L243.9,225.7 L245.1,230.6 L246.3,235.8 L247.5,241.3 L248.7,246.9 L249.9,252.7 L251.2,258.4 L252.4,264.0 L253.6,269.5 L254.8,274.7 L256.0,279.7 L257.2,284.4 L258.4,288.8 L259.6,292.9 L260.8,296.6 L262.1,300.0 L263.3,303.0 L264.5,305.8 L265.7,308.2 L266.9,310.4 L268.1,312.2 L269.3,313.9 L270.5,315.3 L271.8,316.5 L273.0,317.6 L274.2,318.5 L275.4,319.2 L276.6,319.9 L277.8,320.4 L279.0,320.8 L280.2,321.2 L281.4,321.5 L282.7,321.7 L283.9,321.9 L285.1,322.0 L286.3,322.1 L287.5,322.1 L288.7,322.2 L289.9,322.2 L291.1,322.2 L292.3,322.1 L293.6,322.1 L294.8,322.0 L296.0,322.0 L297.2,321.9 L298.4,321.8 L299.6,321.7 L300.8,321.6 L302.0,321.5 L303.3,321.3 L304.5,321.2 L305.7,321.1 L306.9,320.9 L308.1,320.7 L309.3,320.6 L310.5,320.4 L311.7,320.2 L312.9,320.1 L314.2,319.9 L315.4,319.7 L316.6,319.5 L317.8,319.2 L319.0,319.0" fill="none" stroke="#f29a5b" stroke-width="1.35" stroke-linejoin="round"/>
<path d="M150.6,305.5 L151.8,305.3 L153.0,305.0 L154.2,304.7 L155.4,304.4 L156.7,304.1 L157.9,303.8 L159.1,303.5 L160.3,303.2 L161.5,302.9 L162.7,302.5 L163.9,302.2 L165.1,301.8 L166.3,301.5 L167.6,301.1 L168.8,300.7 L170.0,300.3 L171.2,299.9 L172.4,299.5 L173.6,299.0 L174.8,298.6 L176.0,298.1 L177.3,297.6 L178.5,297.1 L179.7,296.6 L180.9,296.0 L182.1,295.5 L183.3,294.9 L184.5,294.3 L185.7,293.7 L186.9,293.0 L188.2,292.3 L189.4,291.6 L190.6,290.9 L191.8,290.1 L193.0,289.3 L194.2,288.5 L195.4,287.6 L196.6,286.7 L197.8,285.7 L199.1,284.7 L200.3,283.7 L201.5,282.6 L202.7,281.4 L203.9,280.2 L205.1,278.9 L206.3,277.5 L207.5,276.1 L208.8,274.6 L210.0,273.0 L211.2,271.4 L212.4,269.6 L213.6,267.7 L214.8,265.8 L216.0,263.7 L217.2,261.5 L218.4,259.1 L219.7,256.6 L220.9,254.0 L222.1,251.3 L223.3,248.4 L224.5,245.4 L225.7,242.2 L226.9,239.0 L228.1,235.7 L229.3,232.3 L230.6,228.9 L231.8,225.5 L233.0,222.3 L234.2,219.4 L235.4,216.7 L236.6,214.6 L237.8,212.9 L239.0,211.9 L240.3,211.6 L241.5,212.5 L242.7,214.5 L243.9,217.4 L245.1,221.0 L246.3,225.3 L247.5,230.1 L248.7,235.3 L249.9,240.8 L251.2,246.5 L252.4,252.2 L253.6,257.9 L254.8,263.5 L256.0,269.0 L257.2,274.3 L258.4,279.3 L259.6,284.0 L260.8,288.5 L262.1,292.5 L263.3,296.3 L264.5,299.7 L265.7,302.8 L266.9,305.5 L268.1,308.0 L269.3,310.2 L270.5,312.1 L271.8,313.8 L273.0,315.2 L274.2,316.4 L275.4,317.5 L276.6,318.4 L277.8,319.2 L279.0,319.8 L280.2,320.3 L281.4,320.8 L282.7,321.1 L283.9,321.4 L285.1,321.7 L286.3,321.9 L287.5,322.0 L288.7,322.1 L289.9,322.1 L291.1,322.2 L292.3,322.2 L293.6,322.2 L294.8,322.2 L296.0,322.1 L297.2,322.1 L298.4,322.0 L299.6,321.9 L300.8,321.8 L302.0,321.7 L303.3,321.6 L304.5,321.5 L305.7,321.4 L306.9,321.3 L308.1,321.1 L309.3,321.0 L310.5,320.9 L311.7,320.7 L312.9,320.5 L314.2,320.4 L315.4,320.2 L316.6,320.0 L317.8,319.8 L319.0,319.6" fill="none" stroke="#f08f4c" stroke-width="1.35" stroke-linejoin="round"/>
<path d="M150.6,306.2 L151.8,305.9 L153.0,305.7 L154.2,305.4 L155.4,305.2 L156.7,304.9 L157.9,304.7 L159.1,304.4 L160.3,304.1 L161.5,303.8 L162.7,303.5 L163.9,303.2 L165.1,302.9 L166.3,302.6 L167.6,302.2 L168.8,301.9 L170.0,301.5 L171.2,301.1 L172.4,300.8 L173.6,300.4 L174.8,300.0 L176.0,299.6 L177.3,299.1 L178.5,298.7 L179.7,298.2 L180.9,297.7 L182.1,297.2 L183.3,296.7 L184.5,296.2 L185.7,295.6 L186.9,295.0 L188.2,294.4 L189.4,293.8 L190.6,293.2 L191.8,292.5 L193.0,291.8 L194.2,291.0 L195.4,290.3 L196.6,289.5 L197.8,288.6 L199.1,287.8 L200.3,286.8 L201.5,285.9 L202.7,284.9 L203.9,283.8 L205.1,282.7 L206.3,281.5 L207.5,280.3 L208.8,279.0 L210.0,277.6 L211.2,276.1 L212.4,274.6 L213.6,273.0 L214.8,271.3 L216.0,269.5 L217.2,267.5 L218.4,265.5 L219.7,263.4 L220.9,261.1 L222.1,258.7 L223.3,256.2 L224.5,253.5 L225.7,250.7 L226.9,247.7 L228.1,244.6 L229.3,241.4 L230.6,238.1 L231.8,234.7 L233.0,231.3 L234.2,227.9 L235.4,224.6 L236.6,221.5 L237.8,218.6 L239.0,216.1 L240.3,214.1 L241.5,212.6 L242.7,211.8 L243.9,211.7 L245.1,212.8 L246.3,215.0 L247.5,218.1 L248.7,221.9 L249.9,226.3 L251.2,231.2 L252.4,236.5 L253.6,242.0 L254.8,247.7 L256.0,253.5 L257.2,259.2 L258.4,264.8 L259.6,270.2 L260.8,275.4 L262.1,280.4 L263.3,285.0 L264.5,289.4 L265.7,293.4 L266.9,297.1 L268.1,300.4 L269.3,303.4 L270.5,306.1 L271.8,308.5 L273.0,310.6 L274.2,312.5 L275.4,314.1 L276.6,315.5 L277.8,316.7 L279.0,317.7 L280.2,318.6 L281.4,319.3 L282.7,319.9 L283.9,320.4 L285.1,320.9 L286.3,321.2 L287.5,321.5 L288.7,321.7 L289.9,321.9 L291.1,322.0 L292.3,322.1 L293.6,322.2 L294.8,322.2 L296.0,322.2 L297.2,322.2 L298.4,322.2 L299.6,322.1 L300.8,322.1 L302.0,322.0 L303.3,321.9 L304.5,321.9 L305.7,321.8 L306.9,321.7 L308.1,321.6 L309.3,321.4 L310.5,321.3 L311.7,321.2 L312.9,321.1 L314.2,320.9 L315.4,320.8 L316.6,320.6 L317.8,320.4 L319.0,320.3" fill="none" stroke="#ec7f35" stroke-width="1.60" stroke-linejoin="round"/>
<path d="M150.6,307.2 L151.8,307.0 L153.0,306.8 L154.2,306.6 L155.4,306.4 L156.7,306.2 L157.9,306.0 L159.1,305.8 L160.3,305.6 L161.5,305.4 L162.7,305.1 L163.9,304.9 L165.1,304.7 L166.3,304.4 L167.6,304.1 L168.8,303.9 L170.0,303.6 L171.2,303.3 L172.4,303.0 L173.6,302.7 L174.8,302.4 L176.0,302.1 L177.3,301.8 L178.5,301.4 L179.7,301.1 L180.9,300.7 L182.1,300.3 L183.3,299.9 L184.5,299.5 L185.7,299.1 L186.9,298.6 L188.2,298.2 L189.4,297.7 L190.6,297.2 L191.8,296.7 L193.0,296.2 L194.2,295.6 L195.4,295.0 L196.6,294.4 L197.8,293.8 L199.1,293.1 L200.3,292.4 L201.5,291.7 L202.7,290.9 L203.9,290.1 L205.1,289.3 L206.3,288.4 L207.5,287.5 L208.8,286.6 L210.0,285.5 L211.2,284.5 L212.4,283.4 L213.6,282.2 L214.8,280.9 L216.0,279.6 L217.2,278.2 L218.4,276.7 L219.7,275.2 L220.9,273.5 L222.1,271.8 L223.3,269.9 L224.5,267.9 L225.7,265.9 L226.9,263.7 L228.1,261.3 L229.3,258.8 L230.6,256.2 L231.8,253.5 L233.0,250.6 L234.2,247.6 L235.4,244.4 L236.6,241.1 L237.8,237.8 L239.0,234.3 L240.3,230.9 L241.5,227.5 L242.7,224.2 L243.9,221.2 L245.1,218.3 L246.3,215.9 L247.5,214.0 L248.7,212.6 L249.9,211.8 L251.2,211.7 L252.4,212.9 L253.6,215.1 L254.8,218.2 L256.0,222.0 L257.2,226.4 L258.4,231.4 L259.6,236.6 L260.8,242.2 L262.1,247.8 L263.3,253.6 L264.5,259.3 L265.7,264.9 L266.9,270.3 L268.1,275.5 L269.3,280.5 L270.5,285.1 L271.8,289.5 L273.0,293.5 L274.2,297.1 L275.4,300.5 L276.6,303.5 L277.8,306.2 L279.0,308.6 L280.2,310.7 L281.4,312.5 L282.7,314.1 L283.9,315.5 L285.1,316.7 L286.3,317.7 L287.5,318.6 L288.7,319.3 L289.9,319.9 L291.1,320.5 L292.3,320.9 L293.6,321.2 L294.8,321.5 L296.0,321.7 L297.2,321.9 L298.4,322.0 L299.6,322.1 L300.8,322.2 L302.0,322.2 L303.3,322.2 L304.5,322.2 L305.7,322.2 L306.9,322.2 L308.1,322.1 L309.3,322.0 L310.5,322.0 L311.7,321.9 L312.9,321.8 L314.2,321.7 L315.4,321.6 L316.6,321.5 L317.8,321.4 L319.0,321.3" fill="none" stroke="#e8772e" stroke-width="1.45" stroke-linejoin="round"/>
</g>
<g clip-path="url(#cf)">
<path d="M152.7,475.5 L153.9,475.1 L155.1,474.6 L156.3,474.2 L157.5,473.8 L158.7,473.3 L160.0,472.8 L161.2,472.3 L162.4,471.8 L163.6,471.3 L164.8,470.8 L166.0,470.2 L167.2,469.6 L168.4,469.0 L169.6,468.4 L170.8,467.8 L172.0,467.2 L173.3,466.5 L174.5,465.8 L175.7,465.1 L176.9,464.4 L178.1,463.6 L179.3,462.8 L180.5,462.0 L181.7,461.1 L182.9,460.2 L184.1,459.3 L185.4,458.3 L186.6,457.3 L187.8,456.2 L189.0,455.1 L190.2,454.0 L191.4,452.8 L192.6,451.5 L193.8,450.2 L195.0,448.8 L196.2,447.4 L197.4,445.9 L198.7,444.2 L199.9,442.6 L201.1,440.8 L202.3,438.9 L203.5,436.9 L204.7,434.8 L205.9,432.6 L207.1,430.3 L208.3,427.8 L209.5,425.2 L210.7,422.5 L212.0,419.6 L213.2,416.6 L214.4,413.4 L215.6,410.2 L216.8,406.8 L218.0,403.4 L219.2,400.0 L220.4,396.6 L221.6,393.4 L222.8,390.6 L224.1,388.1 L225.3,386.1 L226.5,384.9 L227.7,384.3 L228.9,384.9 L230.1,386.9 L231.3,389.9 L232.5,393.8 L233.7,398.5 L234.9,403.7 L236.1,409.4 L237.4,415.3 L238.6,421.5 L239.8,427.6 L241.0,433.8 L242.2,439.8 L243.4,445.6 L244.6,451.1 L245.8,456.3 L247.0,461.1 L248.2,465.6 L249.4,469.6 L250.7,473.3 L251.9,476.7 L253.1,479.6 L254.3,482.2 L255.5,484.5 L256.7,486.5 L257.9,488.2 L259.1,489.6 L260.3,490.9 L261.5,491.9 L262.8,492.8 L264.0,493.5 L265.2,494.1 L266.4,494.6 L267.6,495.0 L268.8,495.3 L270.0,495.6 L271.2,495.8 L272.4,495.9 L273.6,496.0 L274.8,496.1 L276.1,496.2 L277.3,496.2 L278.5,496.1 L279.7,496.1 L280.9,496.1 L282.1,496.0 L283.3,495.9 L284.5,495.8 L285.7,495.7 L286.9,495.6 L288.1,495.5 L289.4,495.3 L290.6,495.2 L291.8,495.0 L293.0,494.8 L294.2,494.7 L295.4,494.5 L296.6,494.3 L297.8,494.0 L299.0,493.8 L300.2,493.6 L301.5,493.4 L302.7,493.1 L303.9,492.9 L305.1,492.6 L306.3,492.3 L307.5,492.0 L308.7,491.7 L309.9,491.4 L311.1,491.1 L312.3,490.8 L313.5,490.5 L314.8,490.1 L316.0,489.8 L317.2,489.4 L318.4,489.0 L319.6,488.7 L320.8,488.3" fill="none" stroke="#b6b6b6" stroke-width="1.35" stroke-linejoin="round"/>
<path d="M152.7,476.0 L153.9,475.6 L155.1,475.2 L156.3,474.8 L157.5,474.4 L158.7,474.0 L160.0,473.5 L161.2,473.1 L162.4,472.6 L163.6,472.1 L164.8,471.6 L166.0,471.1 L167.2,470.5 L168.4,470.0 L169.6,469.4 L170.8,468.8 L172.0,468.2 L173.3,467.6 L174.5,466.9 L175.7,466.2 L176.9,465.5 L178.1,464.8 L179.3,464.0 L180.5,463.3 L181.7,462.4 L182.9,461.6 L184.1,460.7 L185.4,459.8 L186.6,458.8 L187.8,457.8 L189.0,456.8 L190.2,455.7 L191.4,454.5 L192.6,453.3 L193.8,452.0 L195.0,450.7 L196.2,449.3 L197.4,447.8 L198.7,446.3 L199.9,444.7 L201.1,443.0 L202.3,441.1 L203.5,439.2 L204.7,437.2 L205.9,435.1 L207.1,432.8 L208.3,430.4 L209.5,427.9 L210.7,425.2 L212.0,422.4 L213.2,419.4 L214.4,416.3 L215.6,413.1 L216.8,409.8 L218.0,406.4 L219.2,402.9 L220.4,399.5 L221.6,396.1 L222.8,393.0 L224.1,390.2 L225.3,387.8 L226.5,385.9 L227.7,384.7 L228.9,384.3 L230.1,385.1 L231.3,387.2 L232.5,390.4 L233.7,394.4 L234.9,399.2 L236.1,404.5 L237.4,410.2 L238.6,416.2 L239.8,422.3 L241.0,428.5 L242.2,434.6 L243.4,440.6 L244.6,446.3 L245.8,451.8 L247.0,457.0 L248.2,461.7 L249.4,466.2 L250.7,470.2 L251.9,473.8 L253.1,477.1 L254.3,480.0 L255.5,482.5 L256.7,484.8 L257.9,486.7 L259.1,488.4 L260.3,489.8 L261.5,491.0 L262.8,492.0 L264.0,492.9 L265.2,493.6 L266.4,494.2 L267.6,494.7 L268.8,495.0 L270.0,495.4 L271.2,495.6 L272.4,495.8 L273.6,496.0 L274.8,496.1 L276.1,496.1 L277.3,496.2 L278.5,496.2 L279.7,496.2 L280.9,496.1 L282.1,496.1 L283.3,496.0 L284.5,495.9 L285.7,495.9 L286.9,495.8 L288.1,495.6 L289.4,495.5 L290.6,495.4 L291.8,495.2 L293.0,495.1 L294.2,494.9 L295.4,494.8 L296.6,494.6 L297.8,494.4 L299.0,494.2 L300.2,494.0 L301.5,493.8 L302.7,493.6 L303.9,493.3 L305.1,493.1 L306.3,492.8 L307.5,492.6 L308.7,492.3 L309.9,492.0 L311.1,491.8 L312.3,491.5 L313.5,491.2 L314.8,490.9 L316.0,490.5 L317.2,490.2 L318.4,489.9 L319.6,489.5 L320.8,489.2" fill="none" stroke="#a6a6a6" stroke-width="1.35" stroke-linejoin="round"/>
<path d="M152.7,476.6 L153.9,476.2 L155.1,475.8 L156.3,475.4 L157.5,475.0 L158.7,474.6 L160.0,474.2 L161.2,473.8 L162.4,473.3 L163.6,472.9 L164.8,472.4 L166.0,471.9 L167.2,471.4 L168.4,470.9 L169.6,470.4 L170.8,469.8 L172.0,469.2 L173.3,468.6 L174.5,468.0 L175.7,467.4 L176.9,466.7 L178.1,466.0 L179.3,465.3 L180.5,464.6 L181.7,463.8 L182.9,463.0 L184.1,462.2 L185.4,461.3 L186.6,460.4 L187.8,459.4 L189.0,458.4 L190.2,457.4 L191.4,456.3 L192.6,455.1 L193.8,453.9 L195.0,452.6 L196.2,451.3 L197.4,449.9 L198.7,448.4 L199.9,446.9 L201.1,445.2 L202.3,443.4 L203.5,441.6 L204.7,439.6 L205.9,437.6 L207.1,435.4 L208.3,433.1 L209.5,430.6 L210.7,428.0 L212.0,425.3 L213.2,422.4 L214.4,419.4 L215.6,416.2 L216.8,412.9 L218.0,409.5 L219.2,406.1 L220.4,402.6 L221.6,399.1 L222.8,395.8 L224.1,392.7 L225.3,389.9 L226.5,387.5 L227.7,385.8 L228.9,384.7 L230.1,384.3 L231.3,385.2 L232.5,387.5 L233.7,390.7 L234.9,394.8 L236.1,399.7 L237.4,405.0 L238.6,410.7 L239.8,416.8 L241.0,422.9 L242.2,429.1 L243.4,435.2 L244.6,441.2 L245.8,446.9 L247.0,452.3 L248.2,457.4 L249.4,462.2 L250.7,466.6 L251.9,470.5 L253.1,474.2 L254.3,477.4 L255.5,480.2 L256.7,482.8 L257.9,485.0 L259.1,486.9 L260.3,488.5 L261.5,489.9 L262.8,491.1 L264.0,492.1 L265.2,493.0 L266.4,493.7 L267.6,494.2 L268.8,494.7 L270.0,495.1 L271.2,495.4 L272.4,495.6 L273.6,495.8 L274.8,496.0 L276.1,496.1 L277.3,496.1 L278.5,496.2 L279.7,496.2 L280.9,496.2 L282.1,496.2 L283.3,496.1 L284.5,496.0 L285.7,496.0 L286.9,495.9 L288.1,495.8 L289.4,495.7 L290.6,495.6 L291.8,495.5 L293.0,495.3 L294.2,495.2 L295.4,495.0 L296.6,494.9 L297.8,494.7 L299.0,494.5 L300.2,494.4 L301.5,494.2 L302.7,494.0 L303.9,493.8 L305.1,493.6 L306.3,493.3 L307.5,493.1 L308.7,492.9 L309.9,492.6 L311.1,492.4 L312.3,492.1 L313.5,491.8 L314.8,491.6 L316.0,491.3 L317.2,491.0 L318.4,490.7 L319.6,490.4 L320.8,490.0" fill="none" stroke="#929292" stroke-width="1.35" stroke-linejoin="round"/>
<path d="M152.7,477.2 L153.9,476.9 L155.1,476.5 L156.3,476.2 L157.5,475.8 L158.7,475.4 L160.0,475.0 L161.2,474.7 L162.4,474.2 L163.6,473.8 L164.8,473.4 L166.0,473.0 L167.2,472.5 L168.4,472.0 L169.6,471.5 L170.8,471.0 L172.0,470.5 L173.3,469.9 L174.5,469.4 L175.7,468.8 L176.9,468.2 L178.1,467.5 L179.3,466.9 L180.5,466.2 L181.7,465.5 L182.9,464.7 L184.1,463.9 L185.4,463.1 L186.6,462.3 L187.8,461.4 L189.0,460.5 L190.2,459.5 L191.4,458.5 L192.6,457.4 L193.8,456.3 L195.0,455.1 L196.2,453.8 L197.4,452.5 L198.7,451.1 L199.9,449.6 L201.1,448.1 L202.3,446.5 L203.5,444.7 L204.7,442.9 L205.9,440.9 L207.1,438.9 L208.3,436.7 L209.5,434.3 L210.7,431.9 L212.0,429.3 L213.2,426.5 L214.4,423.6 L215.6,420.6 L216.8,417.4 L218.0,414.1 L219.2,410.7 L220.4,407.2 L221.6,403.7 L222.8,400.2 L224.1,396.8 L225.3,393.6 L226.5,390.7 L227.7,388.2 L228.9,386.2 L230.1,384.9 L231.3,384.3 L232.5,384.8 L233.7,386.7 L234.9,389.6 L236.1,393.5 L237.4,398.1 L238.6,403.3 L239.8,408.9 L241.0,414.9 L242.2,421.0 L243.4,427.2 L244.6,433.3 L245.8,439.3 L247.0,445.2 L248.2,450.7 L249.4,455.9 L250.7,460.8 L251.9,465.3 L253.1,469.4 L254.3,473.1 L255.5,476.4 L256.7,479.4 L257.9,482.0 L259.1,484.3 L260.3,486.3 L261.5,488.0 L262.8,489.5 L264.0,490.8 L265.2,491.8 L266.4,492.7 L267.6,493.5 L268.8,494.1 L270.0,494.6 L271.2,495.0 L272.4,495.3 L273.6,495.6 L274.8,495.8 L276.1,495.9 L277.3,496.0 L278.5,496.1 L279.7,496.2 L280.9,496.2 L282.1,496.2 L283.3,496.2 L284.5,496.1 L285.7,496.1 L286.9,496.0 L288.1,496.0 L289.4,495.9 L290.6,495.8 L291.8,495.7 L293.0,495.6 L294.2,495.5 L295.4,495.3 L296.6,495.2 L297.8,495.1 L299.0,494.9 L300.2,494.8 L301.5,494.6 L302.7,494.4 L303.9,494.2 L305.1,494.1 L306.3,493.9 L307.5,493.7 L308.7,493.5 L309.9,493.2 L311.1,493.0 L312.3,492.8 L313.5,492.5 L314.8,492.3 L316.0,492.0 L317.2,491.8 L318.4,491.5 L319.6,491.2 L320.8,491.0" fill="none" stroke="#7c7c7c" stroke-width="1.35" stroke-linejoin="round"/>
<path d="M152.7,477.8 L153.9,477.5 L155.1,477.2 L156.3,476.9 L157.5,476.6 L158.7,476.2 L160.0,475.9 L161.2,475.5 L162.4,475.2 L163.6,474.8 L164.8,474.4 L166.0,474.0 L167.2,473.6 L168.4,473.2 L169.6,472.7 L170.8,472.2 L172.0,471.8 L173.3,471.3 L174.5,470.8 L175.7,470.2 L176.9,469.7 L178.1,469.1 L179.3,468.5 L180.5,467.9 L181.7,467.2 L182.9,466.5 L184.1,465.8 L185.4,465.1 L186.6,464.3 L187.8,463.5 L189.0,462.6 L190.2,461.7 L191.4,460.8 L192.6,459.8 L193.8,458.8 L195.0,457.7 L196.2,456.5 L197.4,455.3 L198.7,454.0 L199.9,452.7 L201.1,451.2 L202.3,449.7 L203.5,448.1 L204.7,446.4 L205.9,444.6 L207.1,442.7 L208.3,440.6 L209.5,438.5 L210.7,436.2 L212.0,433.7 L213.2,431.1 L214.4,428.4 L215.6,425.5 L216.8,422.5 L218.0,419.3 L219.2,416.0 L220.4,412.6 L221.6,409.0 L222.8,405.5 L224.1,401.9 L225.3,398.4 L226.5,395.1 L227.7,392.0 L228.9,389.3 L230.1,387.1 L231.3,385.5 L232.5,384.5 L233.7,384.4 L234.9,385.6 L236.1,388.0 L237.4,391.5 L238.6,395.7 L239.8,400.6 L241.0,406.1 L242.2,411.9 L243.4,417.9 L244.6,424.1 L245.8,430.3 L247.0,436.4 L248.2,442.3 L249.4,447.9 L250.7,453.3 L251.9,458.4 L253.1,463.1 L254.3,467.4 L255.5,471.3 L256.7,474.8 L257.9,478.0 L259.1,480.8 L260.3,483.2 L261.5,485.4 L262.8,487.2 L264.0,488.8 L265.2,490.2 L266.4,491.3 L267.6,492.3 L268.8,493.1 L270.0,493.8 L271.2,494.3 L272.4,494.8 L273.6,495.1 L274.8,495.4 L276.1,495.7 L277.3,495.9 L278.5,496.0 L279.7,496.1 L280.9,496.2 L282.1,496.2 L283.3,496.2 L284.5,496.2 L285.7,496.2 L286.9,496.2 L288.1,496.1 L289.4,496.0 L290.6,496.0 L291.8,495.9 L293.0,495.8 L294.2,495.7 L295.4,495.6 L296.6,495.5 L297.8,495.4 L299.0,495.3 L300.2,495.1 L301.5,495.0 L302.7,494.8 L303.9,494.7 L305.1,494.5 L306.3,494.4 L307.5,494.2 L308.7,494.0 L309.9,493.8 L311.1,493.6 L312.3,493.4 L313.5,493.2 L314.8,493.0 L316.0,492.8 L317.2,492.6 L318.4,492.3 L319.6,492.1 L320.8,491.8" fill="none" stroke="#666666" stroke-width="1.35" stroke-linejoin="round"/>
<path d="M152.7,478.6 L153.9,478.4 L155.1,478.1 L156.3,477.8 L157.5,477.5 L158.7,477.2 L160.0,476.9 L161.2,476.6 L162.4,476.3 L163.6,476.0 L164.8,475.6 L166.0,475.3 L167.2,474.9 L168.4,474.6 L169.6,474.2 L170.8,473.8 L172.0,473.4 L173.3,472.9 L174.5,472.5 L175.7,472.0 L176.9,471.5 L178.1,471.0 L179.3,470.5 L180.5,469.9 L181.7,469.4 L182.9,468.8 L184.1,468.2 L185.4,467.5 L186.6,466.8 L187.8,466.1 L189.0,465.4 L190.2,464.6 L191.4,463.8 L192.6,462.9 L193.8,462.0 L195.0,461.0 L196.2,460.0 L197.4,459.0 L198.7,457.8 L199.9,456.6 L201.1,455.4 L202.3,454.0 L203.5,452.6 L204.7,451.1 L205.9,449.5 L207.1,447.8 L208.3,446.0 L209.5,444.1 L210.7,442.1 L212.0,439.9 L213.2,437.6 L214.4,435.2 L215.6,432.6 L216.8,429.8 L218.0,426.9 L219.2,423.9 L220.4,420.7 L221.6,417.3 L222.8,413.8 L224.1,410.3 L225.3,406.7 L226.5,403.1 L227.7,399.5 L228.9,396.1 L230.1,392.9 L231.3,390.1 L232.5,387.7 L233.7,385.9 L234.9,384.7 L236.1,384.3 L237.4,385.0 L238.6,387.1 L239.8,390.3 L241.0,394.3 L242.2,399.0 L243.4,404.3 L244.6,410.0 L245.8,416.0 L247.0,422.1 L248.2,428.3 L249.4,434.4 L250.7,440.4 L251.9,446.2 L253.1,451.6 L254.3,456.8 L255.5,461.6 L256.7,466.0 L257.9,470.1 L259.1,473.7 L260.3,477.0 L261.5,479.9 L262.8,482.5 L264.0,484.7 L265.2,486.6 L266.4,488.3 L267.6,489.8 L268.8,491.0 L270.0,492.0 L271.2,492.9 L272.4,493.6 L273.6,494.2 L274.8,494.6 L276.1,495.0 L277.3,495.4 L278.5,495.6 L279.7,495.8 L280.9,496.0 L282.1,496.1 L283.3,496.1 L284.5,496.2 L285.7,496.2 L286.9,496.2 L288.1,496.2 L289.4,496.2 L290.6,496.2 L291.8,496.1 L293.0,496.1 L294.2,496.0 L295.4,495.9 L296.6,495.8 L297.8,495.7 L299.0,495.6 L300.2,495.5 L301.5,495.4 L302.7,495.3 L303.9,495.2 L305.1,495.1 L306.3,494.9 L307.5,494.8 L308.7,494.6 L309.9,494.5 L311.1,494.3 L312.3,494.2 L313.5,494.0 L314.8,493.8 L316.0,493.6 L317.2,493.4 L318.4,493.2 L319.6,493.0 L320.8,492.8" fill="none" stroke="#505050" stroke-width="1.35" stroke-linejoin="round"/>
<path d="M152.7,479.3 L153.9,479.1 L155.1,478.9 L156.3,478.6 L157.5,478.4 L158.7,478.1 L160.0,477.9 L161.2,477.6 L162.4,477.4 L163.6,477.1 L164.8,476.8 L166.0,476.5 L167.2,476.2 L168.4,475.9 L169.6,475.5 L170.8,475.2 L172.0,474.9 L173.3,474.5 L174.5,474.1 L175.7,473.7 L176.9,473.3 L178.1,472.9 L179.3,472.4 L180.5,472.0 L181.7,471.5 L182.9,471.0 L184.1,470.4 L185.4,469.9 L186.6,469.3 L187.8,468.7 L189.0,468.0 L190.2,467.4 L191.4,466.7 L192.6,465.9 L193.8,465.1 L195.0,464.3 L196.2,463.4 L197.4,462.5 L198.7,461.5 L199.9,460.5 L201.1,459.4 L202.3,458.3 L203.5,457.0 L204.7,455.7 L205.9,454.4 L207.1,452.9 L208.3,451.3 L209.5,449.7 L210.7,447.9 L212.0,446.0 L213.2,444.0 L214.4,441.8 L215.6,439.5 L216.8,437.1 L218.0,434.5 L219.2,431.8 L220.4,428.8 L221.6,425.8 L222.8,422.6 L224.1,419.2 L225.3,415.7 L226.5,412.1 L227.7,408.4 L228.9,404.8 L230.1,401.1 L231.3,397.6 L232.5,394.3 L233.7,391.3 L234.9,388.7 L236.1,386.6 L237.4,385.2 L238.6,384.4 L239.8,384.5 L241.0,386.0 L242.2,388.7 L243.4,392.3 L244.6,396.7 L245.8,401.8 L247.0,407.3 L248.2,413.2 L249.4,419.3 L250.7,425.4 L251.9,431.6 L253.1,437.7 L254.3,443.5 L255.5,449.2 L256.7,454.5 L257.9,459.4 L259.1,464.0 L260.3,468.2 L261.5,472.1 L262.8,475.5 L264.0,478.6 L265.2,481.3 L266.4,483.7 L267.6,485.8 L268.8,487.6 L270.0,489.1 L271.2,490.4 L272.4,491.6 L273.6,492.5 L274.8,493.3 L276.1,493.9 L277.3,494.4 L278.5,494.9 L279.7,495.2 L280.9,495.5 L282.1,495.7 L283.3,495.9 L284.5,496.0 L285.7,496.1 L286.9,496.2 L288.1,496.2 L289.4,496.2 L290.6,496.2 L291.8,496.2 L293.0,496.2 L294.2,496.2 L295.4,496.1 L296.6,496.1 L297.8,496.0 L299.0,495.9 L300.2,495.9 L301.5,495.8 L302.7,495.7 L303.9,495.6 L305.1,495.5 L306.3,495.4 L307.5,495.3 L308.7,495.2 L309.9,495.0 L311.1,494.9 L312.3,494.8 L313.5,494.6 L314.8,494.5 L316.0,494.3 L317.2,494.2 L318.4,494.0 L319.6,493.9 L320.8,493.7" fill="none" stroke="#3a3a3a" stroke-width="1.35" stroke-linejoin="round"/>
<path d="M152.7,480.1 L153.9,480.0 L155.1,479.8 L156.3,479.6 L157.5,479.4 L158.7,479.2 L160.0,479.1 L161.2,478.9 L162.4,478.7 L163.6,478.4 L164.8,478.2 L166.0,478.0 L167.2,477.8 L168.4,477.5 L169.6,477.3 L170.8,477.0 L172.0,476.7 L173.3,476.5 L174.5,476.2 L175.7,475.9 L176.9,475.6 L178.1,475.2 L179.3,474.9 L180.5,474.5 L181.7,474.2 L182.9,473.8 L184.1,473.4 L185.4,472.9 L186.6,472.5 L187.8,472.0 L189.0,471.5 L190.2,471.0 L191.4,470.5 L192.6,469.9 L193.8,469.3 L195.0,468.6 L196.2,468.0 L197.4,467.3 L198.7,466.5 L199.9,465.7 L201.1,464.9 L202.3,464.0 L203.5,463.1 L204.7,462.1 L205.9,461.0 L207.1,459.9 L208.3,458.7 L209.5,457.4 L210.7,456.0 L212.0,454.6 L213.2,453.0 L214.4,451.4 L215.6,449.6 L216.8,447.7 L218.0,445.7 L219.2,443.5 L220.4,441.2 L221.6,438.7 L222.8,436.1 L224.1,433.3 L225.3,430.3 L226.5,427.2 L227.7,423.9 L228.9,420.5 L230.1,416.9 L231.3,413.2 L232.5,409.5 L233.7,405.8 L234.9,402.0 L236.1,398.4 L237.4,395.1 L238.6,392.0 L239.8,389.3 L241.0,387.1 L242.2,385.5 L243.4,384.5 L244.6,384.3 L245.8,385.5 L247.0,387.9 L248.2,391.3 L249.4,395.6 L250.7,400.5 L251.9,405.9 L253.1,411.7 L254.3,417.7 L255.5,423.9 L256.7,430.1 L257.9,436.1 L259.1,442.1 L260.3,447.8 L261.5,453.1 L262.8,458.2 L264.0,462.9 L265.2,467.2 L266.4,471.1 L267.6,474.7 L268.8,477.9 L270.0,480.7 L271.2,483.1 L272.4,485.3 L273.6,487.2 L274.8,488.8 L276.1,490.1 L277.3,491.3 L278.5,492.3 L279.7,493.1 L280.9,493.8 L282.1,494.3 L283.3,494.8 L284.5,495.1 L285.7,495.4 L286.9,495.7 L288.1,495.9 L289.4,496.0 L290.6,496.1 L291.8,496.2 L293.0,496.2 L294.2,496.3 L295.4,496.3 L296.6,496.3 L297.8,496.2 L299.0,496.2 L300.2,496.2 L301.5,496.1 L302.7,496.1 L303.9,496.0 L305.1,496.0 L306.3,495.9 L307.5,495.8 L308.7,495.7 L309.9,495.6 L311.1,495.6 L312.3,495.5 L313.5,495.4 L314.8,495.2 L316.0,495.1 L317.2,495.0 L318.4,494.9 L319.6,494.8 L320.8,494.6" fill="none" stroke="#1c1c1c" stroke-width="1.60" stroke-linejoin="round"/>
<path d="M152.7,480.7 L153.9,480.6 L155.1,480.6 L156.3,480.5 L157.5,480.4 L158.7,480.3 L160.0,480.2 L161.2,480.1 L162.4,480.0 L163.6,479.9 L164.8,479.8 L166.0,479.6 L167.2,479.5 L168.4,479.4 L169.6,479.3 L170.8,479.1 L172.0,479.0 L173.3,478.8 L174.5,478.7 L175.7,478.5 L176.9,478.3 L178.1,478.1 L179.3,477.9 L180.5,477.7 L181.7,477.5 L182.9,477.3 L184.1,477.1 L185.4,476.8 L186.6,476.6 L187.8,476.3 L189.0,476.0 L190.2,475.7 L191.4,475.4 L192.6,475.0 L193.8,474.7 L195.0,474.3 L196.2,473.9 L197.4,473.5 L198.7,473.1 L199.9,472.6 L201.1,472.1 L202.3,471.6 L203.5,471.0 L204.7,470.4 L205.9,469.8 L207.1,469.1 L208.3,468.4 L209.5,467.6 L210.7,466.7 L212.0,465.9 L213.2,464.9 L214.4,463.9 L215.6,462.8 L216.8,461.6 L218.0,460.4 L219.2,459.0 L220.4,457.6 L221.6,456.0 L222.8,454.4 L224.1,452.6 L225.3,450.7 L226.5,448.6 L227.7,446.4 L228.9,444.0 L230.1,441.4 L231.3,438.7 L232.5,435.8 L233.7,432.7 L234.9,429.5 L236.1,426.0 L237.4,422.4 L238.6,418.7 L239.8,414.9 L241.0,411.0 L242.2,407.1 L243.4,403.2 L244.6,399.5 L245.8,396.0 L247.0,392.8 L248.2,389.9 L249.4,387.6 L250.7,385.9 L251.9,384.7 L253.1,384.3 L254.3,385.0 L255.5,387.1 L256.7,390.2 L257.9,394.2 L259.1,398.9 L260.3,404.1 L261.5,409.8 L262.8,415.8 L264.0,422.0 L265.2,428.1 L266.4,434.3 L267.6,440.2 L268.8,446.0 L270.0,451.5 L271.2,456.7 L272.4,461.5 L273.6,465.9 L274.8,470.0 L276.1,473.6 L277.3,476.9 L278.5,479.8 L279.7,482.4 L280.9,484.6 L282.1,486.6 L283.3,488.3 L284.5,489.7 L285.7,490.9 L286.9,492.0 L288.1,492.8 L289.4,493.6 L290.6,494.1 L291.8,494.6 L293.0,495.0 L294.2,495.3 L295.4,495.6 L296.6,495.8 L297.8,496.0 L299.0,496.1 L300.2,496.2 L301.5,496.2 L302.7,496.3 L303.9,496.3 L305.1,496.3 L306.3,496.3 L307.5,496.3 L308.7,496.2 L309.9,496.2 L311.1,496.2 L312.3,496.1 L313.5,496.1 L314.8,496.0 L316.0,495.9 L317.2,495.9 L318.4,495.8 L319.6,495.7 L320.8,495.6" fill="none" stroke="#111111" stroke-width="1.45" stroke-linejoin="round"/>
</g>
<rect x="150.60" y="22.80" width="168.30" height="139.60" fill="none" stroke="#1c1c1c" stroke-width="1.25"/>
<text x="150.60" y="171.90" font-size="7.70" font-weight="bold" text-anchor="middle" fill="#111" >1.4</text>
<line x1="184.26" y1="162.40" x2="184.26" y2="160.20" stroke="#1a1a1a" stroke-width="1.00" />
<text x="184.26" y="171.90" font-size="7.70" font-weight="bold" text-anchor="middle" fill="#111" >1.6</text>
<line x1="217.92" y1="162.40" x2="217.92" y2="160.20" stroke="#1a1a1a" stroke-width="1.00" />
<text x="217.92" y="171.90" font-size="7.70" font-weight="bold" text-anchor="middle" fill="#111" >1.8</text>
<line x1="251.58" y1="162.40" x2="251.58" y2="160.20" stroke="#1a1a1a" stroke-width="1.00" />
<text x="251.58" y="171.90" font-size="7.70" font-weight="bold" text-anchor="middle" fill="#111" >2.0</text>
<line x1="285.24" y1="162.40" x2="285.24" y2="160.20" stroke="#1a1a1a" stroke-width="1.00" />
<text x="285.24" y="171.90" font-size="7.70" font-weight="bold" text-anchor="middle" fill="#111" >2.2</text>
<text x="318.90" y="171.90" font-size="7.70" font-weight="bold" text-anchor="middle" fill="#111" >2.4</text>
<text x="148.00" y="165.15" font-size="7.70" font-weight="bold" text-anchor="end" fill="#111" >0.0</text>
<line x1="150.60" y1="136.98" x2="152.80" y2="136.98" stroke="#1a1a1a" stroke-width="1.00" />
<text x="148.00" y="139.73" font-size="7.70" font-weight="bold" text-anchor="end" fill="#111" >0.2</text>
<line x1="150.60" y1="111.56" x2="152.80" y2="111.56" stroke="#1a1a1a" stroke-width="1.00" />
<text x="148.00" y="114.31" font-size="7.70" font-weight="bold" text-anchor="end" fill="#111" >0.4</text>
<line x1="150.60" y1="86.14" x2="152.80" y2="86.14" stroke="#1a1a1a" stroke-width="1.00" />
<text x="148.00" y="88.89" font-size="7.70" font-weight="bold" text-anchor="end" fill="#111" >0.6</text>
<line x1="150.60" y1="60.72" x2="152.80" y2="60.72" stroke="#1a1a1a" stroke-width="1.00" />
<text x="148.00" y="63.47" font-size="7.70" font-weight="bold" text-anchor="end" fill="#111" >0.8</text>
<line x1="150.60" y1="35.30" x2="152.80" y2="35.30" stroke="#1a1a1a" stroke-width="1.00" />
<text x="148.00" y="38.05" font-size="7.70" font-weight="bold" text-anchor="end" fill="#111" >1.0</text>
<text x="234.75" y="183.70" font-size="11.70" font-weight="normal" text-anchor="middle" fill="#111" >Frequency (THz)</text>
<text x="0" y="0" font-size="12.10" text-anchor="middle" fill="#111" transform="translate(132.90,90.90) rotate(-90) scale(1,0.84)">Absorbance (arb.u.)</text>
<text x="122.30" y="25.00" font-size="15.20" font-weight="normal" text-anchor="middle" fill="#111" >(d)</text>
<line x1="273.90" y1="29.10" x2="292.40" y2="29.10" stroke="#1b8fe4" stroke-width="1.70" />
<text x="294.60" y="32.20" font-size="8.20" font-weight="bold" text-anchor="start" fill="#111" >d=0.0</text>
<line x1="273.90" y1="39.88" x2="292.40" y2="39.88" stroke="#1e8fe6" stroke-width="1.90" />
<text x="294.60" y="42.98" font-size="8.20" font-weight="bold" text-anchor="start" fill="#111" >d=0.5</text>
<line x1="273.90" y1="50.66" x2="292.40" y2="50.66" stroke="#45a6ec" stroke-width="1.60" />
<text x="294.60" y="53.76" font-size="8.20" font-weight="bold" text-anchor="start" fill="#111" >d=1.0</text>
<line x1="273.90" y1="61.44" x2="292.40" y2="61.44" stroke="#4aa8ec" stroke-width="1.60" />
<text x="294.60" y="64.54" font-size="8.20" font-weight="bold" text-anchor="start" fill="#111" >d=1.5</text>
<line x1="273.90" y1="72.22" x2="292.40" y2="72.22" stroke="#55aeee" stroke-width="1.60" />
<text x="294.60" y="75.32" font-size="8.20" font-weight="bold" text-anchor="start" fill="#111" >d=2.0</text>
<line x1="273.90" y1="83.00" x2="292.40" y2="83.00" stroke="#5ab1ee" stroke-width="1.60" />
<text x="294.60" y="86.10" font-size="8.20" font-weight="bold" text-anchor="start" fill="#111" >d=2.5</text>
<line x1="273.90" y1="93.78" x2="292.40" y2="93.78" stroke="#6abaf0" stroke-width="1.60" />
<text x="294.60" y="96.88" font-size="8.20" font-weight="bold" text-anchor="start" fill="#111" >d=3.0</text>
<line x1="273.90" y1="104.56" x2="292.40" y2="104.56" stroke="#a0d4f6" stroke-width="1.50" />
<text x="294.60" y="107.66" font-size="8.20" font-weight="bold" text-anchor="start" fill="#111" >d=3.5</text>
<line x1="273.90" y1="115.34" x2="292.40" y2="115.34" stroke="#8ccbf4" stroke-width="1.50" />
<text x="294.60" y="118.44" font-size="8.20" font-weight="bold" text-anchor="start" fill="#111" >d=4.0</text>
<rect x="150.60" y="199.40" width="168.40" height="139.10" fill="none" stroke="#1c1c1c" stroke-width="1.25"/>
<text x="150.60" y="348.00" font-size="7.70" font-weight="bold" text-anchor="middle" fill="#111" >1.4</text>
<line x1="184.28" y1="338.50" x2="184.28" y2="336.30" stroke="#1a1a1a" stroke-width="1.00" />
<text x="184.28" y="348.00" font-size="7.70" font-weight="bold" text-anchor="middle" fill="#111" >1.6</text>
<line x1="217.96" y1="338.50" x2="217.96" y2="336.30" stroke="#1a1a1a" stroke-width="1.00" />
<text x="217.96" y="348.00" font-size="7.70" font-weight="bold" text-anchor="middle" fill="#111" >1.8</text>
<line x1="251.64" y1="338.50" x2="251.64" y2="336.30" stroke="#1a1a1a" stroke-width="1.00" />
<text x="251.64" y="348.00" font-size="7.70" font-weight="bold" text-anchor="middle" fill="#111" >2.0</text>
<line x1="285.32" y1="338.50" x2="285.32" y2="336.30" stroke="#1a1a1a" stroke-width="1.00" />
<text x="285.32" y="348.00" font-size="7.70" font-weight="bold" text-anchor="middle" fill="#111" >2.2</text>
<text x="319.00" y="348.00" font-size="7.70" font-weight="bold" text-anchor="middle" fill="#111" >2.4</text>
<text x="148.00" y="341.25" font-size="7.70" font-weight="bold" text-anchor="end" fill="#111" >0.0</text>
<line x1="150.60" y1="313.12" x2="152.80" y2="313.12" stroke="#1a1a1a" stroke-width="1.00" />
<text x="148.00" y="315.87" font-size="7.70" font-weight="bold" text-anchor="end" fill="#111" >0.2</text>
<line x1="150.60" y1="287.74" x2="152.80" y2="287.74" stroke="#1a1a1a" stroke-width="1.00" />
<text x="148.00" y="290.49" font-size="7.70" font-weight="bold" text-anchor="end" fill="#111" >0.4</text>
<line x1="150.60" y1="262.36" x2="152.80" y2="262.36" stroke="#1a1a1a" stroke-width="1.00" />
<text x="148.00" y="265.11" font-size="7.70" font-weight="bold" text-anchor="end" fill="#111" >0.6</text>
<line x1="150.60" y1="236.98" x2="152.80" y2="236.98" stroke="#1a1a1a" stroke-width="1.00" />
<text x="148.00" y="239.73" font-size="7.70" font-weight="bold" text-anchor="end" fill="#111" >0.8</text>
<line x1="150.60" y1="211.60" x2="152.80" y2="211.60" stroke="#1a1a1a" stroke-width="1.00" />
<text x="148.00" y="214.35" font-size="7.70" font-weight="bold" text-anchor="end" fill="#111" >1.0</text>
<text x="234.80" y="359.80" font-size="11.70" font-weight="normal" text-anchor="middle" fill="#111" >Frequency (THz)</text>
<text x="0" y="0" font-size="12.10" text-anchor="middle" fill="#111" transform="translate(133.40,268.60) rotate(-90) scale(1,0.84)">Absorbance (arb.u.)</text>
<text x="122.30" y="195.80" font-size="15.20" font-weight="normal" text-anchor="middle" fill="#111" >(e)</text>
<line x1="273.90" y1="205.30" x2="292.60" y2="205.30" stroke="#e8772e" stroke-width="1.70" />
<text x="294.70" y="208.40" font-size="8.20" font-weight="bold" text-anchor="start" fill="#111" >d=0.0</text>
<line x1="273.90" y1="216.10" x2="292.60" y2="216.10" stroke="#ec7f35" stroke-width="1.90" />
<text x="294.70" y="219.20" font-size="8.20" font-weight="bold" text-anchor="start" fill="#111" >d=0.5</text>
<line x1="273.90" y1="226.90" x2="292.60" y2="226.90" stroke="#f08c48" stroke-width="1.60" />
<text x="294.70" y="230.00" font-size="8.20" font-weight="bold" text-anchor="start" fill="#111" >d=1.0</text>
<line x1="273.90" y1="237.70" x2="292.60" y2="237.70" stroke="#f29455" stroke-width="1.60" />
<text x="294.70" y="240.80" font-size="8.20" font-weight="bold" text-anchor="start" fill="#111" >d=1.5</text>
<line x1="273.90" y1="248.50" x2="292.60" y2="248.50" stroke="#f5a470" stroke-width="1.60" />
<text x="294.70" y="251.60" font-size="8.20" font-weight="bold" text-anchor="start" fill="#111" >d=2.0</text>
<line x1="273.90" y1="259.30" x2="292.60" y2="259.30" stroke="#f5a571" stroke-width="1.60" />
<text x="294.70" y="262.40" font-size="8.20" font-weight="bold" text-anchor="start" fill="#111" >d=2.5</text>
<line x1="273.90" y1="270.10" x2="292.60" y2="270.10" stroke="#f6b083" stroke-width="1.60" />
<text x="294.70" y="273.20" font-size="8.20" font-weight="bold" text-anchor="start" fill="#111" >d=3.0</text>
<line x1="273.90" y1="280.90" x2="292.60" y2="280.90" stroke="#f8c4a0" stroke-width="1.50" />
<text x="294.70" y="284.00" font-size="8.20" font-weight="bold" text-anchor="start" fill="#111" >d=3.5</text>
<line x1="273.90" y1="291.70" x2="292.60" y2="291.70" stroke="#f9c9a8" stroke-width="1.50" />
<text x="294.70" y="294.80" font-size="8.20" font-weight="bold" text-anchor="start" fill="#111" >d=4.0</text>
<rect x="152.70" y="371.40" width="168.10" height="141.60" fill="none" stroke="#1c1c1c" stroke-width="1.25"/>
<text x="152.70" y="522.50" font-size="7.70" font-weight="bold" text-anchor="middle" fill="#111" >1.4</text>
<line x1="186.32" y1="513.00" x2="186.32" y2="510.80" stroke="#1a1a1a" stroke-width="1.00" />
<text x="186.32" y="522.50" font-size="7.70" font-weight="bold" text-anchor="middle" fill="#111" >1.6</text>
<line x1="219.94" y1="513.00" x2="219.94" y2="510.80" stroke="#1a1a1a" stroke-width="1.00" />
<text x="219.94" y="522.50" font-size="7.70" font-weight="bold" text-anchor="middle" fill="#111" >1.8</text>
<line x1="253.56" y1="513.00" x2="253.56" y2="510.80" stroke="#1a1a1a" stroke-width="1.00" />
<text x="253.56" y="522.50" font-size="7.70" font-weight="bold" text-anchor="middle" fill="#111" >2.0</text>
<line x1="287.18" y1="513.00" x2="287.18" y2="510.80" stroke="#1a1a1a" stroke-width="1.00" />
<text x="287.18" y="522.50" font-size="7.70" font-weight="bold" text-anchor="middle" fill="#111" >2.2</text>
<text x="320.80" y="522.50" font-size="7.70" font-weight="bold" text-anchor="middle" fill="#111" >2.4</text>
<text x="150.10" y="515.75" font-size="7.70" font-weight="bold" text-anchor="end" fill="#111" >0.0</text>
<line x1="152.70" y1="487.26" x2="154.90" y2="487.26" stroke="#1a1a1a" stroke-width="1.00" />
<text x="150.10" y="490.01" font-size="7.70" font-weight="bold" text-anchor="end" fill="#111" >0.2</text>
<line x1="152.70" y1="461.52" x2="154.90" y2="461.52" stroke="#1a1a1a" stroke-width="1.00" />
<text x="150.10" y="464.27" font-size="7.70" font-weight="bold" text-anchor="end" fill="#111" >0.4</text>
<line x1="152.70" y1="435.78" x2="154.90" y2="435.78" stroke="#1a1a1a" stroke-width="1.00" />
<text x="150.10" y="438.53" font-size="7.70" font-weight="bold" text-anchor="end" fill="#111" >0.6</text>
<line x1="152.70" y1="410.04" x2="154.90" y2="410.04" stroke="#1a1a1a" stroke-width="1.00" />
<text x="150.10" y="412.79" font-size="7.70" font-weight="bold" text-anchor="end" fill="#111" >0.8</text>
<line x1="152.70" y1="384.30" x2="154.90" y2="384.30" stroke="#1a1a1a" stroke-width="1.00" />
<text x="150.10" y="387.05" font-size="7.70" font-weight="bold" text-anchor="end" fill="#111" >1.0</text>
<text x="236.75" y="534.30" font-size="11.70" font-weight="normal" text-anchor="middle" fill="#111" >Frequency (THz)</text>
<text x="0" y="0" font-size="12.10" text-anchor="middle" fill="#111" transform="translate(135.80,441.60) rotate(-90) scale(1,0.84)">Absorbance (arb.u.)</text>
<text x="122.45" y="370.80" font-size="15.20" font-weight="normal" text-anchor="middle" fill="#111" >(f)</text>
<line x1="276.00" y1="378.20" x2="294.50" y2="378.20" stroke="#111111" stroke-width="1.70" />
<text x="296.40" y="381.30" font-size="8.20" font-weight="bold" text-anchor="start" fill="#111" >d=0.0</text>
<line x1="276.00" y1="389.00" x2="294.50" y2="389.00" stroke="#1c1c1c" stroke-width="1.90" />
<text x="296.40" y="392.10" font-size="8.20" font-weight="bold" text-anchor="start" fill="#111" >d=0.5</text>
<line x1="276.00" y1="399.80" x2="294.50" y2="399.80" stroke="#444444" stroke-width="1.60" />
<text x="296.40" y="402.90" font-size="8.20" font-weight="bold" text-anchor="start" fill="#111" >d=1.0</text>
<line x1="276.00" y1="410.60" x2="294.50" y2="410.60" stroke="#3a3a3a" stroke-width="1.60" />
<text x="296.40" y="413.70" font-size="8.20" font-weight="bold" text-anchor="start" fill="#111" >d=1.5</text>
<line x1="276.00" y1="421.40" x2="294.50" y2="421.40" stroke="#8a8a8a" stroke-width="1.60" />
<text x="296.40" y="424.50" font-size="8.20" font-weight="bold" text-anchor="start" fill="#111" >d=2.0</text>
<line x1="276.00" y1="432.20" x2="294.50" y2="432.20" stroke="#777777" stroke-width="1.60" />
<text x="296.40" y="435.30" font-size="8.20" font-weight="bold" text-anchor="start" fill="#111" >d=2.5</text>
<line x1="276.00" y1="443.00" x2="294.50" y2="443.00" stroke="#6a6a6a" stroke-width="1.60" />
<text x="296.40" y="446.10" font-size="8.20" font-weight="bold" text-anchor="start" fill="#111" >d=3.0</text>
<line x1="276.00" y1="453.80" x2="294.50" y2="453.80" stroke="#b0b0b0" stroke-width="1.50" />
<text x="296.40" y="456.90" font-size="8.20" font-weight="bold" text-anchor="start" fill="#111" >d=3.5</text>
<line x1="276.00" y1="464.60" x2="294.50" y2="464.60" stroke="#a0a0a0" stroke-width="1.50" />
<text x="296.40" y="467.70" font-size="8.20" font-weight="bold" text-anchor="start" fill="#111" >d=4.0</text>
<rect x="368.60" y="23.60" width="167.80" height="138.80" fill="none" stroke="#1c1c1c" stroke-width="1.25"/>
<line x1="378.40" y1="162.40" x2="378.40" y2="160.20" stroke="#1a1a1a" stroke-width="1.00" />
<text x="377.40" y="171.80" font-size="7.30" font-weight="bold" text-anchor="middle" fill="#111" >0</text>
<line x1="398.12" y1="162.40" x2="398.12" y2="160.20" stroke="#1a1a1a" stroke-width="1.00" />
<text x="397.12" y="171.80" font-size="7.30" font-weight="bold" text-anchor="middle" fill="#111" >1</text>
<line x1="417.84" y1="162.40" x2="417.84" y2="160.20" stroke="#1a1a1a" stroke-width="1.00" />
<text x="416.84" y="171.80" font-size="7.30" font-weight="bold" text-anchor="middle" fill="#111" >2</text>
<line x1="437.56" y1="162.40" x2="437.56" y2="160.20" stroke="#1a1a1a" stroke-width="1.00" />
<text x="436.56" y="171.80" font-size="7.30" font-weight="bold" text-anchor="middle" fill="#111" >3</text>
<line x1="457.28" y1="162.40" x2="457.28" y2="160.20" stroke="#1a1a1a" stroke-width="1.00" />
<text x="456.28" y="171.80" font-size="7.30" font-weight="bold" text-anchor="middle" fill="#111" >4</text>
<line x1="477.00" y1="162.40" x2="477.00" y2="160.20" stroke="#1a1a1a" stroke-width="1.00" />
<text x="476.00" y="171.80" font-size="7.30" font-weight="bold" text-anchor="middle" fill="#111" >5</text>
<line x1="496.72" y1="162.40" x2="496.72" y2="160.20" stroke="#1a1a1a" stroke-width="1.00" />
<text x="495.72" y="171.80" font-size="7.30" font-weight="bold" text-anchor="middle" fill="#111" >6</text>
<line x1="516.44" y1="162.40" x2="516.44" y2="160.20" stroke="#1a1a1a" stroke-width="1.00" />
<text x="515.44" y="171.80" font-size="7.30" font-weight="bold" text-anchor="middle" fill="#111" >7</text>
<text x="535.16" y="171.80" font-size="7.30" font-weight="bold" text-anchor="middle" fill="#111" >8</text>
<line x1="368.60" y1="154.10" x2="370.80" y2="154.10" stroke="#1a1a1a" stroke-width="1.00" />
<text x="365.00" y="156.70" font-size="7.30" font-weight="bold" text-anchor="end" fill="#111" >0.00</text>
<line x1="368.60" y1="137.79" x2="370.80" y2="137.79" stroke="#1a1a1a" stroke-width="1.00" />
<text x="365.00" y="140.39" font-size="7.30" font-weight="bold" text-anchor="end" fill="#111" >0.02</text>
<line x1="368.60" y1="121.48" x2="370.80" y2="121.48" stroke="#1a1a1a" stroke-width="1.00" />
<text x="365.00" y="124.08" font-size="7.30" font-weight="bold" text-anchor="end" fill="#111" >0.04</text>
<line x1="368.60" y1="105.17" x2="370.80" y2="105.17" stroke="#1a1a1a" stroke-width="1.00" />
<text x="365.00" y="107.77" font-size="7.30" font-weight="bold" text-anchor="end" fill="#111" >0.06</text>
<line x1="368.60" y1="88.86" x2="370.80" y2="88.86" stroke="#1a1a1a" stroke-width="1.00" />
<text x="365.00" y="91.46" font-size="7.30" font-weight="bold" text-anchor="end" fill="#111" >0.08</text>
<line x1="368.60" y1="72.55" x2="370.80" y2="72.55" stroke="#1a1a1a" stroke-width="1.00" />
<text x="365.00" y="75.15" font-size="7.30" font-weight="bold" text-anchor="end" fill="#111" >0.10</text>
<line x1="368.60" y1="56.24" x2="370.80" y2="56.24" stroke="#1a1a1a" stroke-width="1.00" />
<text x="365.00" y="58.84" font-size="7.30" font-weight="bold" text-anchor="end" fill="#111" >0.12</text>
<line x1="368.60" y1="39.93" x2="370.80" y2="39.93" stroke="#1a1a1a" stroke-width="1.00" />
<text x="365.00" y="42.53" font-size="7.30" font-weight="bold" text-anchor="end" fill="#111" >0.14</text>
<text x="365.00" y="26.22" font-size="7.30" font-weight="bold" text-anchor="end" fill="#111" >0.16</text>
<text x="452.90" y="183.30" font-size="11.60" font-weight="normal" text-anchor="middle" fill="#111" >Thickness (μm)</text>
<text x="0" y="0" font-size="12.00" text-anchor="middle" fill="#111" transform="translate(346.10,92.45) rotate(-90) scale(1,0.80)">Frequency shift (THz)</text>
<text x="338.10" y="25.00" font-size="15.20" font-weight="normal" text-anchor="middle" fill="#111" >(g)</text>
<text x="0" y="0" font-size="15.7" fill="#3a3a3a" stroke="#3a3a3a" stroke-width="0.45" transform="translate(381.60,46.80) scale(0.965,1)">ε=1.5</text>
<rect x="366.80" y="200.00" width="171.40" height="141.10" fill="none" stroke="#1c1c1c" stroke-width="1.25"/>
<line x1="377.00" y1="341.10" x2="377.00" y2="338.90" stroke="#1a1a1a" stroke-width="1.00" />
<text x="376.00" y="350.50" font-size="7.30" font-weight="bold" text-anchor="middle" fill="#111" >0</text>
<line x1="397.15" y1="341.10" x2="397.15" y2="338.90" stroke="#1a1a1a" stroke-width="1.00" />
<text x="396.15" y="350.50" font-size="7.30" font-weight="bold" text-anchor="middle" fill="#111" >1</text>
<line x1="417.30" y1="341.10" x2="417.30" y2="338.90" stroke="#1a1a1a" stroke-width="1.00" />
<text x="416.30" y="350.50" font-size="7.30" font-weight="bold" text-anchor="middle" fill="#111" >2</text>
<line x1="437.45" y1="341.10" x2="437.45" y2="338.90" stroke="#1a1a1a" stroke-width="1.00" />
<text x="436.45" y="350.50" font-size="7.30" font-weight="bold" text-anchor="middle" fill="#111" >3</text>
<line x1="457.60" y1="341.10" x2="457.60" y2="338.90" stroke="#1a1a1a" stroke-width="1.00" />
<text x="456.60" y="350.50" font-size="7.30" font-weight="bold" text-anchor="middle" fill="#111" >4</text>
<line x1="477.75" y1="341.10" x2="477.75" y2="338.90" stroke="#1a1a1a" stroke-width="1.00" />
<text x="476.75" y="350.50" font-size="7.30" font-weight="bold" text-anchor="middle" fill="#111" >5</text>
<line x1="497.90" y1="341.10" x2="497.90" y2="338.90" stroke="#1a1a1a" stroke-width="1.00" />
<text x="496.90" y="350.50" font-size="7.30" font-weight="bold" text-anchor="middle" fill="#111" >6</text>
<line x1="518.05" y1="341.10" x2="518.05" y2="338.90" stroke="#1a1a1a" stroke-width="1.00" />
<text x="517.05" y="350.50" font-size="7.30" font-weight="bold" text-anchor="middle" fill="#111" >7</text>
<text x="537.20" y="350.50" font-size="7.30" font-weight="bold" text-anchor="middle" fill="#111" >8</text>
<line x1="366.80" y1="332.60" x2="369.00" y2="332.60" stroke="#1a1a1a" stroke-width="1.00" />
<text x="363.20" y="335.20" font-size="7.30" font-weight="bold" text-anchor="end" fill="#111" >0.00</text>
<line x1="366.80" y1="316.03" x2="369.00" y2="316.03" stroke="#1a1a1a" stroke-width="1.00" />
<text x="363.20" y="318.63" font-size="7.30" font-weight="bold" text-anchor="end" fill="#111" >0.02</text>
<line x1="366.80" y1="299.45" x2="369.00" y2="299.45" stroke="#1a1a1a" stroke-width="1.00" />
<text x="363.20" y="302.05" font-size="7.30" font-weight="bold" text-anchor="end" fill="#111" >0.04</text>
<line x1="366.80" y1="282.88" x2="369.00" y2="282.88" stroke="#1a1a1a" stroke-width="1.00" />
<text x="363.20" y="285.48" font-size="7.30" font-weight="bold" text-anchor="end" fill="#111" >0.06</text>
<line x1="366.80" y1="266.30" x2="369.00" y2="266.30" stroke="#1a1a1a" stroke-width="1.00" />
<text x="363.20" y="268.90" font-size="7.30" font-weight="bold" text-anchor="end" fill="#111" >0.08</text>
<line x1="366.80" y1="249.73" x2="369.00" y2="249.73" stroke="#1a1a1a" stroke-width="1.00" />
<text x="363.20" y="252.33" font-size="7.30" font-weight="bold" text-anchor="end" fill="#111" >0.10</text>
<line x1="366.80" y1="233.15" x2="369.00" y2="233.15" stroke="#1a1a1a" stroke-width="1.00" />
<text x="363.20" y="235.75" font-size="7.30" font-weight="bold" text-anchor="end" fill="#111" >0.12</text>
<line x1="366.80" y1="216.58" x2="369.00" y2="216.58" stroke="#1a1a1a" stroke-width="1.00" />
<text x="363.20" y="219.18" font-size="7.30" font-weight="bold" text-anchor="end" fill="#111" >0.14</text>
<text x="363.20" y="202.60" font-size="7.30" font-weight="bold" text-anchor="end" fill="#111" >0.16</text>
<text x="452.90" y="362.00" font-size="11.60" font-weight="normal" text-anchor="middle" fill="#111" >Thickness (μm)</text>
<text x="0" y="0" font-size="12.00" text-anchor="middle" fill="#111" transform="translate(343.00,269.30) rotate(-90) scale(1,0.80)">Frequency shift (THz)</text>
<text x="338.10" y="195.90" font-size="15.20" font-weight="normal" text-anchor="middle" fill="#111" >(h)</text>
<text x="0" y="0" font-size="15.7" fill="#3a3a3a" stroke="#3a3a3a" stroke-width="0.45" transform="translate(375.30,225.30) scale(0.965,1)">ε=1.8</text>
<rect x="367.00" y="371.80" width="171.00" height="141.00" fill="none" stroke="#1c1c1c" stroke-width="1.25"/>
<line x1="377.40" y1="512.80" x2="377.40" y2="510.60" stroke="#1a1a1a" stroke-width="1.00" />
<text x="376.40" y="522.20" font-size="7.30" font-weight="bold" text-anchor="middle" fill="#111" >0</text>
<line x1="397.45" y1="512.80" x2="397.45" y2="510.60" stroke="#1a1a1a" stroke-width="1.00" />
<text x="396.45" y="522.20" font-size="7.30" font-weight="bold" text-anchor="middle" fill="#111" >1</text>
<line x1="417.50" y1="512.80" x2="417.50" y2="510.60" stroke="#1a1a1a" stroke-width="1.00" />
<text x="416.50" y="522.20" font-size="7.30" font-weight="bold" text-anchor="middle" fill="#111" >2</text>
<line x1="437.55" y1="512.80" x2="437.55" y2="510.60" stroke="#1a1a1a" stroke-width="1.00" />
<text x="436.55" y="522.20" font-size="7.30" font-weight="bold" text-anchor="middle" fill="#111" >3</text>
<line x1="457.60" y1="512.80" x2="457.60" y2="510.60" stroke="#1a1a1a" stroke-width="1.00" />
<text x="456.60" y="522.20" font-size="7.30" font-weight="bold" text-anchor="middle" fill="#111" >4</text>
<line x1="477.65" y1="512.80" x2="477.65" y2="510.60" stroke="#1a1a1a" stroke-width="1.00" />
<text x="476.65" y="522.20" font-size="7.30" font-weight="bold" text-anchor="middle" fill="#111" >5</text>
<line x1="497.70" y1="512.80" x2="497.70" y2="510.60" stroke="#1a1a1a" stroke-width="1.00" />
<text x="496.70" y="522.20" font-size="7.30" font-weight="bold" text-anchor="middle" fill="#111" >6</text>
<line x1="517.75" y1="512.80" x2="517.75" y2="510.60" stroke="#1a1a1a" stroke-width="1.00" />
<text x="516.75" y="522.20" font-size="7.30" font-weight="bold" text-anchor="middle" fill="#111" >7</text>
<text x="536.80" y="522.20" font-size="7.30" font-weight="bold" text-anchor="middle" fill="#111" >8</text>
<line x1="367.00" y1="504.80" x2="369.20" y2="504.80" stroke="#1a1a1a" stroke-width="1.00" />
<text x="363.40" y="507.40" font-size="7.30" font-weight="bold" text-anchor="end" fill="#111" >0.00</text>
<line x1="367.00" y1="488.20" x2="369.20" y2="488.20" stroke="#1a1a1a" stroke-width="1.00" />
<text x="363.40" y="490.80" font-size="7.30" font-weight="bold" text-anchor="end" fill="#111" >0.02</text>
<line x1="367.00" y1="471.60" x2="369.20" y2="471.60" stroke="#1a1a1a" stroke-width="1.00" />
<text x="363.40" y="474.20" font-size="7.30" font-weight="bold" text-anchor="end" fill="#111" >0.04</text>
<line x1="367.00" y1="455.00" x2="369.20" y2="455.00" stroke="#1a1a1a" stroke-width="1.00" />
<text x="363.40" y="457.60" font-size="7.30" font-weight="bold" text-anchor="end" fill="#111" >0.06</text>
<line x1="367.00" y1="438.40" x2="369.20" y2="438.40" stroke="#1a1a1a" stroke-width="1.00" />
<text x="363.40" y="441.00" font-size="7.30" font-weight="bold" text-anchor="end" fill="#111" >0.08</text>
<line x1="367.00" y1="421.80" x2="369.20" y2="421.80" stroke="#1a1a1a" stroke-width="1.00" />
<text x="363.40" y="424.40" font-size="7.30" font-weight="bold" text-anchor="end" fill="#111" >0.10</text>
<line x1="367.00" y1="405.20" x2="369.20" y2="405.20" stroke="#1a1a1a" stroke-width="1.00" />
<text x="363.40" y="407.80" font-size="7.30" font-weight="bold" text-anchor="end" fill="#111" >0.12</text>
<line x1="367.00" y1="388.60" x2="369.20" y2="388.60" stroke="#1a1a1a" stroke-width="1.00" />
<text x="363.40" y="391.20" font-size="7.30" font-weight="bold" text-anchor="end" fill="#111" >0.14</text>
<text x="363.40" y="374.60" font-size="7.30" font-weight="bold" text-anchor="end" fill="#111" >0.16</text>
<text x="452.90" y="533.70" font-size="11.60" font-weight="normal" text-anchor="middle" fill="#111" >Thickness (μm)</text>
<text x="0" y="0" font-size="12.00" text-anchor="middle" fill="#111" transform="translate(343.40,443.50) rotate(-90) scale(1,0.80)">Frequency shift (THz)</text>
<text x="338.30" y="370.80" font-size="15.20" font-weight="normal" text-anchor="middle" fill="#111" >(i)</text>
<text x="0" y="0" font-size="15.7" fill="#3a3a3a" stroke="#3a3a3a" stroke-width="0.45" transform="translate(375.20,392.60) scale(0.965,1)">ε=2.1</text>
<path d="M380.4,149.4 L381.7,146.5 L383.0,143.7 L384.3,141.1 L385.6,138.6 L386.9,136.2 L388.2,134.0 L389.5,131.9 L390.8,129.9 L392.2,127.9 L393.5,126.1 L394.8,124.4 L396.1,122.8 L397.4,121.2 L398.7,119.8 L400.0,118.4 L401.3,117.1 L402.6,115.8 L403.9,114.6 L405.2,113.5 L406.6,112.5 L407.9,111.4 L409.2,110.5 L410.5,109.6 L411.8,108.7 L413.1,107.9 L414.4,107.1 L415.7,106.4 L417.0,105.7 L418.3,105.0 L419.6,104.4 L421.0,103.8 L422.3,103.3 L423.6,102.7 L424.9,102.2 L426.2,101.7 L427.5,101.3 L428.8,100.9 L430.1,100.4 L431.4,100.1 L432.7,99.7 L434.0,99.3 L435.4,99.0 L436.7,98.7 L438.0,98.4 L439.3,98.1 L440.6,97.8 L441.9,97.6 L443.2,97.3 L444.5,97.1 L445.8,96.9 L447.1,96.7 L448.4,96.5 L449.8,96.3 L451.1,96.1 L452.4,96.0 L453.7,95.8 L455.0,95.7 L456.3,95.5 L457.6,95.4 L458.9,95.3 L460.2,95.1 L461.5,95.0 L462.8,94.9 L464.2,94.8 L465.5,94.7 L466.8,94.6 L468.1,94.5 L469.4,94.5 L470.7,94.4 L472.0,94.3 L473.3,94.2 L474.6,94.2 L475.9,94.1 L477.2,94.0 L478.6,94.0 L479.9,93.9 L481.2,93.9 L482.5,93.8 L483.8,93.8 L485.1,93.7 L486.4,93.7 L487.7,93.7 L489.0,93.6 L490.3,93.6 L491.6,93.6 L493.0,93.5 L494.3,93.5 L495.6,93.5 L496.9,93.4 L498.2,93.4 L499.5,93.4 L500.8,93.4 L502.1,93.3 L503.4,93.3 L504.7,93.3 L506.0,93.3 L507.4,93.3 L508.7,93.2 L510.0,93.2 L511.3,93.2 L512.6,93.2 L513.9,93.2 L515.2,93.2 L516.5,93.2 L517.8,93.2 L519.1,93.1 L520.5,93.1 L521.8,93.1 L523.1,93.1 L524.4,93.1 L525.7,93.1 L527.0,93.1 L528.3,93.1 L529.6,93.1 L530.9,93.1 L532.2,93.1 L533.5,93.1 L534.9,93.0 L536.2,93.0" fill="none" stroke="#111" stroke-width="1.60" stroke-dasharray="3.8,3.8"/>
<line x1="485.00" y1="153.60" x2="535.00" y2="153.60" stroke="#111" stroke-width="1.60" stroke-dasharray="3.8,3.8"/>
<polygon points="378.40,149.60 382.60,151.85 382.60,156.35 378.40,158.60 374.20,156.35 374.20,151.85" fill="#fff" stroke="#1e96f0" stroke-width="1"/>
<polygon points="378.40,149.60 378.40,158.60 374.20,156.35 374.20,151.85" fill="#1e96f0" stroke="#1e96f0" stroke-width="0.6"/>
<polygon points="388.26,126.93 392.46,129.18 392.46,133.68 388.26,135.93 384.06,133.68 384.06,129.18" fill="#fff" stroke="#1e96f0" stroke-width="1"/>
<polygon points="388.26,126.93 388.26,135.93 384.06,133.68 384.06,129.18" fill="#1e96f0" stroke="#1e96f0" stroke-width="0.6"/>
<polygon points="398.12,115.35 402.32,117.60 402.32,122.10 398.12,124.35 393.92,122.10 393.92,117.60" fill="#fff" stroke="#1e96f0" stroke-width="1"/>
<polygon points="398.12,115.35 398.12,124.35 393.92,122.10 393.92,117.60" fill="#1e96f0" stroke="#1e96f0" stroke-width="0.6"/>
<polygon points="407.98,108.91 412.18,111.16 412.18,115.66 407.98,117.91 403.78,115.66 403.78,111.16" fill="#fff" stroke="#1e96f0" stroke-width="1"/>
<polygon points="407.98,108.91 407.98,117.91 403.78,115.66 403.78,111.16" fill="#1e96f0" stroke="#1e96f0" stroke-width="0.6"/>
<polygon points="417.84,103.52 422.04,105.77 422.04,110.27 417.84,112.52 413.64,110.27 413.64,105.77" fill="#fff" stroke="#1e96f0" stroke-width="1"/>
<polygon points="417.84,103.52 417.84,112.52 413.64,110.27 413.64,105.77" fill="#1e96f0" stroke="#1e96f0" stroke-width="0.6"/>
<polygon points="427.70,98.55 431.90,100.80 431.90,105.30 427.70,107.55 423.50,105.30 423.50,100.80" fill="#fff" stroke="#1e96f0" stroke-width="1"/>
<polygon points="427.70,98.55 427.70,107.55 423.50,105.30 423.50,100.80" fill="#1e96f0" stroke="#1e96f0" stroke-width="0.6"/>
<polygon points="437.56,94.31 441.76,96.56 441.76,101.06 437.56,103.31 433.36,101.06 433.36,96.56" fill="#fff" stroke="#1e96f0" stroke-width="1"/>
<polygon points="437.56,94.31 437.56,103.31 433.36,101.06 433.36,96.56" fill="#1e96f0" stroke="#1e96f0" stroke-width="0.6"/>
<polygon points="447.42,92.51 451.62,94.76 451.62,99.26 447.42,101.51 443.22,99.26 443.22,94.76" fill="#fff" stroke="#1e96f0" stroke-width="1"/>
<polygon points="447.42,92.51 447.42,101.51 443.22,99.26 443.22,94.76" fill="#1e96f0" stroke="#1e96f0" stroke-width="0.6"/>
<polygon points="457.28,90.07 461.48,92.32 461.48,96.82 457.28,99.07 453.08,96.82 453.08,92.32" fill="#fff" stroke="#1e96f0" stroke-width="1"/>
<polygon points="457.28,90.07 457.28,99.07 453.08,96.82 453.08,92.32" fill="#1e96f0" stroke="#1e96f0" stroke-width="0.6"/>
<polyline points="378.3,143.9 378.3,162.0" fill="none" stroke="#e8208e" stroke-width="1.20"/>
<polyline points="410.0,110.0 424.5,101.5" fill="none" stroke="#e8208e" stroke-width="1.20"/>
<polyline points="448.2,96.4 466.4,92.7" fill="none" stroke="#e8208e" stroke-width="1.20"/>
<line x1="529.70" y1="110.90" x2="529.70" y2="100.00" stroke="#111" stroke-width="1.00" />
<path d="M528.00,101.00 L529.70,94.50 L531.40,101.00 Z" fill="#111"/>
<line x1="529.70" y1="135.50" x2="529.70" y2="146.90" stroke="#111" stroke-width="1.00" />
<path d="M528.00,145.90 L529.70,152.40 L531.40,145.90 Z" fill="#111"/>
<text x="0" y="0" font-size="11.2" font-weight="bold" fill="#111" transform="translate(488.80,124.00) scale(1.065,1)">y<tspan font-size="8.1" dy="2.8">0</tspan><tspan dy="-2.8">=0.075</tspan></text>
<text x="0" y="0" font-size="11.2" font-weight="bold" fill="#111" transform="translate(413.80,136.70) scale(1.065,1)">R<tspan font-size="8.1" dy="2.8">0</tspan><tspan dy="-2.8">=-0.770</tspan></text>
<text x="0" y="0" font-size="11.2" font-weight="bold" fill="#111" transform="translate(413.50,153.00) scale(1.065,1)">R<tspan font-size="7.6" dy="-4.3">2</tspan><tspan dy="4.3">=0.99646</tspan></text>
<path d="M379.0,325.2 L380.3,320.8 L381.6,316.6 L382.9,312.6 L384.2,308.8 L385.4,305.2 L386.7,301.8 L388.0,298.5 L389.3,295.4 L390.6,292.5 L391.9,289.7 L393.2,287.1 L394.5,284.5 L395.7,282.1 L397.0,279.9 L398.3,277.7 L399.6,275.6 L400.9,273.7 L402.2,271.8 L403.5,270.1 L404.8,268.4 L406.0,266.8 L407.3,265.3 L408.6,263.9 L409.9,262.5 L411.2,261.2 L412.5,260.0 L413.8,258.8 L415.0,257.7 L416.3,256.6 L417.6,255.6 L418.9,254.7 L420.2,253.8 L421.5,252.9 L422.8,252.1 L424.1,251.3 L425.3,250.6 L426.6,249.9 L427.9,249.2 L429.2,248.6 L430.5,248.0 L431.8,247.4 L433.1,246.8 L434.4,246.3 L435.6,245.8 L436.9,245.4 L438.2,244.9 L439.5,244.5 L440.8,244.1 L442.1,243.7 L443.4,243.4 L444.6,243.0 L445.9,242.7 L447.2,242.4 L448.5,242.1 L449.8,241.8 L451.1,241.5 L452.4,241.3 L453.7,241.0 L454.9,240.8 L456.2,240.6 L457.5,240.4 L458.8,240.2 L460.1,240.0 L461.4,239.8 L462.7,239.7 L463.9,239.5 L465.2,239.4 L466.5,239.2 L467.8,239.1 L469.1,238.9 L470.4,238.8 L471.7,238.7 L473.0,238.6 L474.2,238.5 L475.5,238.4 L476.8,238.3 L478.1,238.2 L479.4,238.1 L480.7,238.0 L482.0,238.0 L483.3,237.9 L484.5,237.8 L485.8,237.7 L487.1,237.7 L488.4,237.6 L489.7,237.6 L491.0,237.5 L492.3,237.5 L493.5,237.4 L494.8,237.4 L496.1,237.3 L497.4,237.3 L498.7,237.2 L500.0,237.2 L501.3,237.2 L502.6,237.1 L503.8,237.1 L505.1,237.1 L506.4,237.0 L507.7,237.0 L509.0,237.0 L510.3,236.9 L511.6,236.9 L512.9,236.9 L514.1,236.9 L515.4,236.9 L516.7,236.8 L518.0,236.8 L519.3,236.8 L520.6,236.8 L521.9,236.8 L523.1,236.8 L524.4,236.7 L525.7,236.7 L527.0,236.7 L528.3,236.7 L529.6,236.7 L530.9,236.7 L532.2,236.7" fill="none" stroke="#111" stroke-width="1.50" stroke-dasharray="8,8"/>
<line x1="487.60" y1="333.60" x2="532.00" y2="333.60" stroke="#111" stroke-width="1.50" stroke-dasharray="9,8"/>
<polygon points="377.00,327.40 382.20,336.50 371.80,336.50" fill="#fff" stroke="#f2503c" stroke-width="1"/>
<polygon points="377.00,327.40 377.00,336.50 371.80,336.50" fill="#f2503c" stroke="#f2503c" stroke-width="0.6"/>
<polygon points="387.07,291.85 392.27,300.95 381.88,300.95" fill="#fff" stroke="#f2503c" stroke-width="1"/>
<polygon points="387.07,291.85 387.07,300.95 381.88,300.95" fill="#f2503c" stroke="#f2503c" stroke-width="0.6"/>
<polygon points="397.15,275.19 402.35,284.29 391.95,284.29" fill="#fff" stroke="#f2503c" stroke-width="1"/>
<polygon points="397.15,275.19 397.15,284.29 391.95,284.29" fill="#f2503c" stroke="#f2503c" stroke-width="0.6"/>
<polygon points="407.23,262.76 412.43,271.86 402.03,271.86" fill="#fff" stroke="#f2503c" stroke-width="1"/>
<polygon points="407.23,262.76 407.23,271.86 402.03,271.86" fill="#f2503c" stroke="#f2503c" stroke-width="0.6"/>
<polygon points="417.30,252.81 422.50,261.91 412.10,261.91" fill="#fff" stroke="#f2503c" stroke-width="1"/>
<polygon points="417.30,252.81 417.30,261.91 412.10,261.91" fill="#f2503c" stroke="#f2503c" stroke-width="0.6"/>
<polygon points="427.38,247.01 432.57,256.11 422.18,256.11" fill="#fff" stroke="#f2503c" stroke-width="1"/>
<polygon points="427.38,247.01 427.38,256.11 422.18,256.11" fill="#f2503c" stroke="#f2503c" stroke-width="0.6"/>
<polygon points="437.45,239.97 442.65,249.07 432.25,249.07" fill="#fff" stroke="#f2503c" stroke-width="1"/>
<polygon points="437.45,239.97 437.45,249.07 432.25,249.07" fill="#f2503c" stroke="#f2503c" stroke-width="0.6"/>
<polygon points="447.52,236.24 452.72,245.34 442.32,245.34" fill="#fff" stroke="#f2503c" stroke-width="1"/>
<polygon points="447.52,236.24 447.52,245.34 442.32,245.34" fill="#f2503c" stroke="#f2503c" stroke-width="0.6"/>
<polygon points="457.60,233.17 462.80,242.27 452.40,242.27" fill="#fff" stroke="#f2503c" stroke-width="1"/>
<polygon points="457.60,233.17 457.60,242.27 452.40,242.27" fill="#f2503c" stroke="#f2503c" stroke-width="0.6"/>
<polyline points="377.0,320.0 377.0,341.0" fill="none" stroke="#e8208e" stroke-width="1.20"/>
<polyline points="406.8,265.5 430.0,245.0" fill="none" stroke="#e8208e" stroke-width="1.20"/>
<polyline points="450.5,241.0 466.8,237.6" fill="none" stroke="#e8208e" stroke-width="1.20"/>
<line x1="527.20" y1="268.00" x2="527.20" y2="242.30" stroke="#111" stroke-width="1.00" />
<path d="M525.50,243.30 L527.20,236.80 L528.90,243.30 Z" fill="#111"/>
<line x1="527.20" y1="298.00" x2="527.20" y2="325.70" stroke="#111" stroke-width="1.00" />
<path d="M525.50,324.70 L527.20,331.20 L528.90,324.70 Z" fill="#111"/>
<text x="0" y="0" font-size="11.2" font-weight="bold" fill="#111" transform="translate(488.80,285.80) scale(1.065,1)">y<tspan font-size="8.1" dy="2.8">0</tspan><tspan dy="-2.8">=0.116</tspan></text>
<text x="0" y="0" font-size="11.2" font-weight="bold" fill="#111" transform="translate(405.80,306.70) scale(1.065,1)">R<tspan font-size="8.1" dy="2.8">0</tspan><tspan dy="-2.8">=-0.748</tspan></text>
<text x="0" y="0" font-size="11.2" font-weight="bold" fill="#111" transform="translate(406.10,327.70) scale(1.065,1)">R<tspan font-size="7.6" dy="-4.3">2</tspan><tspan dy="4.3">=0.99637</tspan></text>
<path d="M379.4,495.3 L380.7,489.3 L382.1,483.7 L383.4,478.4 L384.7,473.3 L386.1,468.4 L387.4,463.8 L388.7,459.5 L390.1,455.3 L391.4,451.4 L392.7,447.6 L394.0,444.1 L395.4,440.7 L396.7,437.5 L398.0,434.4 L399.4,431.5 L400.7,428.8 L402.0,426.2 L403.4,423.7 L404.7,421.3 L406.0,419.0 L407.4,416.9 L408.7,414.9 L410.0,413.0 L411.4,411.1 L412.7,409.4 L414.0,407.7 L415.3,406.2 L416.7,404.7 L418.0,403.2 L419.3,401.9 L420.7,400.6 L422.0,399.4 L423.3,398.2 L424.7,397.1 L426.0,396.1 L427.3,395.1 L428.7,394.2 L430.0,393.3 L431.3,392.4 L432.6,391.6 L434.0,390.8 L435.3,390.1 L436.6,389.4 L438.0,388.7 L439.3,388.1 L440.6,387.5 L442.0,387.0 L443.3,386.4 L444.6,385.9 L446.0,385.4 L447.3,385.0 L448.6,384.5 L450.0,384.1 L451.3,383.7 L452.6,383.3 L453.9,383.0 L455.3,382.6 L456.6,382.3 L457.9,382.0 L459.3,381.7 L460.6,381.4 L461.9,381.2 L463.3,380.9 L464.6,380.7 L465.9,380.5 L467.3,380.2 L468.6,380.0 L469.9,379.8 L471.2,379.7 L472.6,379.5 L473.9,379.3 L475.2,379.2 L476.6,379.0 L477.9,378.9 L479.2,378.7 L480.6,378.6 L481.9,378.5 L483.2,378.4 L484.6,378.3 L485.9,378.2 L487.2,378.1 L488.6,378.0 L489.9,377.9 L491.2,377.8 L492.5,377.7 L493.9,377.6 L495.2,377.6 L496.5,377.5 L497.9,377.4 L499.2,377.4 L500.5,377.3 L501.9,377.2 L503.2,377.2 L504.5,377.1 L505.9,377.1 L507.2,377.0 L508.5,377.0 L509.8,376.9 L511.2,376.9 L512.5,376.9 L513.8,376.8 L515.2,376.8 L516.5,376.8 L517.8,376.7 L519.2,376.7 L520.5,376.7 L521.8,376.7 L523.2,376.6 L524.5,376.6 L525.8,376.6 L527.2,376.6 L528.5,376.5 L529.8,376.5 L531.1,376.5 L532.5,376.5 L533.8,376.5 L535.1,376.5 L536.5,376.4 L537.8,376.4" fill="none" stroke="#111" stroke-width="1.20" stroke-dasharray="6.2,2.5,1.2,2.9"/>
<line x1="473.80" y1="503.20" x2="536.00" y2="503.20" stroke="#111" stroke-width="1.20" stroke-dasharray="6.2,2.5,1.2,2.9"/>
<polygon points="373.10,500.50 381.70,500.50 381.70,509.10 373.10,509.10" fill="#fff" stroke="#888" stroke-width="1"/>
<polygon points="373.10,500.50 377.40,500.50 377.40,509.10 373.10,509.10" fill="#333" stroke="#333" stroke-width="0.6"/>
<polygon points="383.12,456.84 391.72,456.84 391.72,465.44 383.12,465.44" fill="#fff" stroke="#888" stroke-width="1"/>
<polygon points="383.12,456.84 387.42,456.84 387.42,465.44 383.12,465.44" fill="#333" stroke="#333" stroke-width="0.6"/>
<polygon points="393.15,431.44 401.75,431.44 401.75,440.04 393.15,440.04" fill="#fff" stroke="#888" stroke-width="1"/>
<polygon points="393.15,431.44 397.45,431.44 397.45,440.04 393.15,440.04" fill="#333" stroke="#333" stroke-width="0.6"/>
<polygon points="403.17,416.75 411.77,416.75 411.77,425.35 403.17,425.35" fill="#fff" stroke="#888" stroke-width="1"/>
<polygon points="403.17,416.75 407.47,416.75 407.47,425.35 403.17,425.35" fill="#333" stroke="#333" stroke-width="0.6"/>
<polygon points="413.20,402.89 421.80,402.89 421.80,411.49 413.20,411.49" fill="#fff" stroke="#888" stroke-width="1"/>
<polygon points="413.20,402.89 417.50,402.89 417.50,411.49 413.20,411.49" fill="#333" stroke="#333" stroke-width="0.6"/>
<polygon points="423.22,393.93 431.82,393.93 431.82,402.53 423.22,402.53" fill="#fff" stroke="#888" stroke-width="1"/>
<polygon points="423.22,393.93 427.52,393.93 427.52,402.53 423.22,402.53" fill="#333" stroke="#333" stroke-width="0.6"/>
<polygon points="433.25,386.13 441.85,386.13 441.85,394.73 433.25,394.73" fill="#fff" stroke="#888" stroke-width="1"/>
<polygon points="433.25,386.13 437.55,386.13 437.55,394.73 433.25,394.73" fill="#333" stroke="#333" stroke-width="0.6"/>
<polygon points="443.27,380.73 451.88,380.73 451.88,389.33 443.27,389.33" fill="#fff" stroke="#888" stroke-width="1"/>
<polygon points="443.27,380.73 447.57,380.73 447.57,389.33 443.27,389.33" fill="#333" stroke="#333" stroke-width="0.6"/>
<polygon points="453.30,375.58 461.90,375.58 461.90,384.19 453.30,384.19" fill="#fff" stroke="#888" stroke-width="1"/>
<polygon points="453.30,375.58 457.60,375.58 457.60,384.19 453.30,384.19" fill="#333" stroke="#333" stroke-width="0.6"/>
<polyline points="377.2,492.5 377.2,512.5" fill="none" stroke="#e8208e" stroke-width="1.20"/>
<polyline points="405.0,420.0 423.0,398.0" fill="none" stroke="#e8208e" stroke-width="1.20"/>
<polyline points="452.0,383.4 464.7,379.8" fill="none" stroke="#e8208e" stroke-width="1.20"/>
<line x1="523.20" y1="413.40" x2="523.20" y2="381.30" stroke="#111" stroke-width="1.00" />
<path d="M521.50,382.30 L523.20,375.80 L524.90,382.30 Z" fill="#111"/>
<line x1="523.20" y1="462.00" x2="523.20" y2="497.50" stroke="#111" stroke-width="1.00" />
<path d="M521.50,496.50 L523.20,503.00 L524.90,496.50 Z" fill="#111"/>
<text x="0" y="0" font-size="11.2" font-weight="bold" fill="#111" transform="translate(488.80,439.80) scale(1.065,1)">y<tspan font-size="8.1" dy="2.8">0</tspan><tspan dy="-2.8">=0.155</tspan></text>
<text x="0" y="0" font-size="11.2" font-weight="bold" fill="#111" transform="translate(402.70,472.30) scale(1.065,1)">R<tspan font-size="8.1" dy="2.8">0</tspan><tspan dy="-2.8">=-0.736</tspan></text>
<text x="0" y="0" font-size="11.2" font-weight="bold" fill="#111" transform="translate(402.70,489.10) scale(1.065,1)">R<tspan font-size="7.6" dy="-4.3">2</tspan><tspan dy="4.3">=0.99626</tspan></text>
<defs>
<linearGradient id="BF" x1="0" y1="0" x2="1" y2="0"><stop offset="0.00" stop-color="#3774b8"/><stop offset="0.30" stop-color="#4a8acb"/><stop offset="0.62" stop-color="#6eabe1"/><stop offset="0.80" stop-color="#5a98d4"/><stop offset="1.00" stop-color="#3d7bbd"/></linearGradient>
<linearGradient id="BT" x1="0" y1="0" x2="1" y2="0"><stop offset="0.00" stop-color="#6aa3d9"/><stop offset="0.55" stop-color="#9ccaef"/><stop offset="0.70" stop-color="#b4dbf6"/><stop offset="1.00" stop-color="#7ab3e3"/></linearGradient>
<linearGradient id="BR" x1="0" y1="0" x2="0" y2="1"><stop offset="0.00" stop-color="#9ccbf1"/><stop offset="0.25" stop-color="#6aa6dc"/><stop offset="1.00" stop-color="#3a77b8"/></linearGradient>
<linearGradient id="BL" x1="0" y1="0" x2="0" y2="1"><stop offset="0" stop-color="#fff" stop-opacity="0.26"/><stop offset="0.3" stop-color="#fff" stop-opacity="0.1"/><stop offset="0.6" stop-color="#000" stop-opacity="0"/><stop offset="1" stop-color="#000" stop-opacity="0.13"/></linearGradient>
<linearGradient id="OF" x1="0" y1="0" x2="1" y2="0"><stop offset="0.00" stop-color="#d8661f"/><stop offset="0.30" stop-color="#e4783a"/><stop offset="0.62" stop-color="#f09a5c"/><stop offset="0.80" stop-color="#e88442"/><stop offset="1.00" stop-color="#d86a24"/></linearGradient>
<linearGradient id="OT" x1="0" y1="0" x2="1" y2="0"><stop offset="0.00" stop-color="#e6813f"/><stop offset="0.55" stop-color="#f6b585"/><stop offset="0.70" stop-color="#fbd0ad"/><stop offset="1.00" stop-color="#ee9a5e"/></linearGradient>
<linearGradient id="OR" x1="0" y1="0" x2="0" y2="1"><stop offset="0.00" stop-color="#f7c39a"/><stop offset="0.25" stop-color="#ee9a5c"/><stop offset="1.00" stop-color="#cf5f1c"/></linearGradient>
<linearGradient id="OL" x1="0" y1="0" x2="0" y2="1"><stop offset="0" stop-color="#fff" stop-opacity="0.26"/><stop offset="0.3" stop-color="#fff" stop-opacity="0.1"/><stop offset="0.6" stop-color="#000" stop-opacity="0"/><stop offset="1" stop-color="#000" stop-opacity="0.13"/></linearGradient>
<linearGradient id="GF" x1="0" y1="0" x2="1" y2="0"><stop offset="0.00" stop-color="#646464"/><stop offset="0.30" stop-color="#7a7a7a"/><stop offset="0.52" stop-color="#b4b4b4"/><stop offset="0.64" stop-color="#cfcfcf"/><stop offset="0.80" stop-color="#a0a0a0"/><stop offset="1.00" stop-color="#787878"/></linearGradient>
<linearGradient id="GT" x1="0" y1="0" x2="1" y2="0"><stop offset="0.00" stop-color="#707070"/><stop offset="0.50" stop-color="#9a9a9a"/><stop offset="0.70" stop-color="#cfcfcf"/><stop offset="1.00" stop-color="#8a8a8a"/></linearGradient>
<linearGradient id="GR" x1="0" y1="0" x2="0" y2="1"><stop offset="0.00" stop-color="#cfcfcf"/><stop offset="0.20" stop-color="#9c9c9c"/><stop offset="1.00" stop-color="#5e5e5e"/></linearGradient>
<linearGradient id="GL" x1="0" y1="0" x2="0" y2="1"><stop offset="0" stop-color="#fff" stop-opacity="0.26"/><stop offset="0.3" stop-color="#fff" stop-opacity="0.1"/><stop offset="0.6" stop-color="#000" stop-opacity="0"/><stop offset="1" stop-color="#000" stop-opacity="0.13"/></linearGradient>
</defs>
<text x="14.60" y="25.00" font-size="15.20" font-weight="normal" text-anchor="middle" fill="#111" >(a)</text>
<rect x="0" y="0" width="1" height="1" transform="matrix(80.800,14.600,0,20.600,22.200,23.700)" fill="url(#BF)"/>
<rect x="0" y="0.0000" width="1" height="1.0000" transform="matrix(80.800,14.600,0,20.600,22.200,23.700)" fill="url(#BL)"/>
<rect x="0" y="0.0000" width="1" height="1.0000" transform="matrix(7.800,-5.200,0,20.600,103.000,38.300)" fill="url(#BR)"/>
<rect x="0" y="0" width="1" height="1" transform="matrix(80.800,14.600,7.800,-5.200,22.200,23.700)" fill="url(#BT)"/>
<line x1="22.20" y1="23.70" x2="103.00" y2="38.30" stroke="#9ccbf0" stroke-width="0.9" stroke-opacity="0.8"/>
<g transform="translate(37.00,45.70) skewY(10.24)"><text x="0" y="0" font-size="14.5" fill="#333" stroke="#333" stroke-width="0.2">ε</text><text x="7.00" y="2.40" font-size="7.4" fill="#333">1</text><text x="11.00" y="0" font-size="14.5" fill="#333" stroke="#333" stroke-width="0.2">=</text><text x="21.00" y="0" font-size="17.8" font-style="italic" fill="#dca020" stroke="#dca020" stroke-width="0.2" letter-spacing="0.00">1.5</text></g>
<circle cx="60.3" cy="56.6" r="1.3" fill="#3c86cc"/>
<circle cx="60.3" cy="62.6" r="1.3" fill="#3c86cc"/>
<circle cx="60.3" cy="68.6" r="1.3" fill="#3c86cc"/>
<rect x="0" y="0" width="1" height="1" transform="matrix(80.500,14.500,0,81.600,21.200,72.500)" fill="url(#BF)"/>
<rect x="0" y="0.0000" width="1" height="0.2500" transform="matrix(80.500,14.500,0,81.600,21.200,72.500)" fill="url(#BL)"/>
<rect x="0" y="0.2500" width="1" height="0.2500" transform="matrix(80.500,14.500,0,81.600,21.200,72.500)" fill="url(#BL)"/>
<rect x="0" y="0.5000" width="1" height="0.2500" transform="matrix(80.500,14.500,0,81.600,21.200,72.500)" fill="url(#BL)"/>
<rect x="0" y="0.7500" width="1" height="0.2500" transform="matrix(80.500,14.500,0,81.600,21.200,72.500)" fill="url(#BL)"/>
<rect x="0" y="0.0000" width="1" height="0.2500" transform="matrix(8.200,-6.000,0,81.600,101.700,87.000)" fill="url(#BR)"/>
<rect x="0" y="0.2500" width="1" height="0.2500" transform="matrix(8.200,-6.000,0,81.600,101.700,87.000)" fill="url(#BR)"/>
<rect x="0" y="0.5000" width="1" height="0.2500" transform="matrix(8.200,-6.000,0,81.600,101.700,87.000)" fill="url(#BR)"/>
<rect x="0" y="0.7500" width="1" height="0.2500" transform="matrix(8.200,-6.000,0,81.600,101.700,87.000)" fill="url(#BR)"/>
<line x1="0" y1="0.2500" x2="1" y2="0.2500" transform="matrix(80.500,14.500,0,81.600,21.200,72.500)" stroke="#9ccbf0" stroke-width="0.8" stroke-opacity="0.75" vector-effect="non-scaling-stroke"/>
<line x1="0" y1="0.2500" x2="1" y2="0.2500" transform="matrix(8.200,-6.000,0,81.600,101.700,87.000)" stroke="#9ccbf0" stroke-width="0.9" vector-effect="non-scaling-stroke"/>
<line x1="0" y1="0.5000" x2="1" y2="0.5000" transform="matrix(80.500,14.500,0,81.600,21.200,72.500)" stroke="#9ccbf0" stroke-width="0.8" stroke-opacity="0.75" vector-effect="non-scaling-stroke"/>
<line x1="0" y1="0.5000" x2="1" y2="0.5000" transform="matrix(8.200,-6.000,0,81.600,101.700,87.000)" stroke="#9ccbf0" stroke-width="0.9" vector-effect="non-scaling-stroke"/>
<line x1="0" y1="0.7500" x2="1" y2="0.7500" transform="matrix(80.500,14.500,0,81.600,21.200,72.500)" stroke="#9ccbf0" stroke-width="0.8" stroke-opacity="0.75" vector-effect="non-scaling-stroke"/>
<line x1="0" y1="0.7500" x2="1" y2="0.7500" transform="matrix(8.200,-6.000,0,81.600,101.700,87.000)" stroke="#9ccbf0" stroke-width="0.9" vector-effect="non-scaling-stroke"/>
<rect x="0" y="0" width="1" height="1" transform="matrix(80.500,14.500,8.200,-6.000,21.200,72.500)" fill="url(#BT)"/>
<line x1="21.20" y1="72.50" x2="101.70" y2="87.00" stroke="#9ccbf0" stroke-width="0.9" stroke-opacity="0.8"/>
<text x="53.5" y="93.4" font-size="12.8" fill="#333" stroke="#333" stroke-width="0.25">ε<tspan font-size="10.0" dx="0.6" dy="1.8">1</tspan></text>
<text x="53.5" y="114.6" font-size="12.8" fill="#333" stroke="#333" stroke-width="0.25">ε<tspan font-size="10.0" dx="0.6" dy="1.8">1</tspan></text>
<text x="53.5" y="136.0" font-size="12.8" fill="#333" stroke="#333" stroke-width="0.25">ε<tspan font-size="10.0" dx="0.6" dy="1.8">1</tspan></text>
<text x="53.5" y="157.6" font-size="12.8" fill="#333" stroke="#333" stroke-width="0.25">ε<tspan font-size="10.0" dx="0.6" dy="1.8">1</tspan></text>
<text x="14.40" y="195.70" font-size="15.20" font-weight="normal" text-anchor="middle" fill="#111" >(b)</text>
<rect x="0" y="0" width="1" height="1" transform="matrix(78.600,13.600,0,19.700,24.000,203.100)" fill="url(#OF)"/>
<rect x="0" y="0.0000" width="1" height="1.0000" transform="matrix(78.600,13.600,0,19.700,24.000,203.100)" fill="url(#OL)"/>
<rect x="0" y="0.0000" width="1" height="1.0000" transform="matrix(8.000,-5.700,0,19.700,102.600,216.700)" fill="url(#OR)"/>
<rect x="0" y="0" width="1" height="1" transform="matrix(78.600,13.600,8.000,-5.700,24.000,203.100)" fill="url(#OT)"/>
<line x1="24.00" y1="203.10" x2="102.60" y2="216.70" stroke="#f6b88c" stroke-width="0.9" stroke-opacity="0.8"/>
<g transform="translate(34.00,224.10) skewY(9.82)"><text x="0" y="0" font-size="14.5" fill="#1e1e34" stroke="#1e1e34" stroke-width="0.2">ε</text><text x="5.80" y="2.40" font-size="7.4" fill="#1e1e34">2</text><text x="11.60" y="0" font-size="14.5" fill="#1e1e34" stroke="#1e1e34" stroke-width="0.2">=</text><text x="21.50" y="0" font-size="18.5" font-style="normal" fill="#74701c" stroke="#74701c" stroke-width="0.2" letter-spacing="0.00">1.8</text></g>
<circle cx="59.5" cy="233.6" r="1.3" fill="#e07a30"/>
<circle cx="59.5" cy="239.0" r="1.3" fill="#e07a30"/>
<circle cx="59.5" cy="244.5" r="1.3" fill="#e07a30"/>
<rect x="0" y="0" width="1" height="1" transform="matrix(77.700,14.200,0,76.300,21.900,251.600)" fill="url(#OF)"/>
<rect x="0" y="0.0000" width="1" height="0.2500" transform="matrix(77.700,14.200,0,76.300,21.900,251.600)" fill="url(#OL)"/>
<rect x="0" y="0.2500" width="1" height="0.2500" transform="matrix(77.700,14.200,0,76.300,21.900,251.600)" fill="url(#OL)"/>
<rect x="0" y="0.5000" width="1" height="0.2500" transform="matrix(77.700,14.200,0,76.300,21.900,251.600)" fill="url(#OL)"/>
<rect x="0" y="0.7500" width="1" height="0.2500" transform="matrix(77.700,14.200,0,76.300,21.900,251.600)" fill="url(#OL)"/>
<rect x="0" y="0.0000" width="1" height="0.2500" transform="matrix(8.000,-5.600,0,76.300,99.600,265.800)" fill="url(#OR)"/>
<rect x="0" y="0.2500" width="1" height="0.2500" transform="matrix(8.000,-5.600,0,76.300,99.600,265.800)" fill="url(#OR)"/>
<rect x="0" y="0.5000" width="1" height="0.2500" transform="matrix(8.000,-5.600,0,76.300,99.600,265.800)" fill="url(#OR)"/>
<rect x="0" y="0.7500" width="1" height="0.2500" transform="matrix(8.000,-5.600,0,76.300,99.600,265.800)" fill="url(#OR)"/>
<line x1="0" y1="0.2500" x2="1" y2="0.2500" transform="matrix(77.700,14.200,0,76.300,21.900,251.600)" stroke="#f6b88c" stroke-width="0.8" stroke-opacity="0.75" vector-effect="non-scaling-stroke"/>
<line x1="0" y1="0.2500" x2="1" y2="0.2500" transform="matrix(8.000,-5.600,0,76.300,99.600,265.800)" stroke="#f6b88c" stroke-width="0.9" vector-effect="non-scaling-stroke"/>
<line x1="0" y1="0.5000" x2="1" y2="0.5000" transform="matrix(77.700,14.200,0,76.300,21.900,251.600)" stroke="#f6b88c" stroke-width="0.8" stroke-opacity="0.75" vector-effect="non-scaling-stroke"/>
<line x1="0" y1="0.5000" x2="1" y2="0.5000" transform="matrix(8.000,-5.600,0,76.300,99.600,265.800)" stroke="#f6b88c" stroke-width="0.9" vector-effect="non-scaling-stroke"/>
<line x1="0" y1="0.7500" x2="1" y2="0.7500" transform="matrix(77.700,14.200,0,76.300,21.900,251.600)" stroke="#f6b88c" stroke-width="0.8" stroke-opacity="0.75" vector-effect="non-scaling-stroke"/>
<line x1="0" y1="0.7500" x2="1" y2="0.7500" transform="matrix(8.000,-5.600,0,76.300,99.600,265.800)" stroke="#f6b88c" stroke-width="0.9" vector-effect="non-scaling-stroke"/>
<rect x="0" y="0" width="1" height="1" transform="matrix(77.700,14.200,8.000,-5.600,21.900,251.600)" fill="url(#OT)"/>
<line x1="21.90" y1="251.60" x2="99.60" y2="265.80" stroke="#f6b88c" stroke-width="0.9" stroke-opacity="0.8"/>
<text x="53.8" y="274.5" font-size="12.8" fill="#2a2a3a" stroke="#2a2a3a" stroke-width="0.25">ε<tspan font-size="10.0" dx="0.6" dy="1.8">2</tspan></text>
<text x="53.8" y="293.6" font-size="12.8" fill="#2a2a3a" stroke="#2a2a3a" stroke-width="0.25">ε<tspan font-size="10.0" dx="0.6" dy="1.8">2</tspan></text>
<text x="53.8" y="312.7" font-size="12.8" fill="#2a2a3a" stroke="#2a2a3a" stroke-width="0.25">ε<tspan font-size="10.0" dx="0.6" dy="1.8">2</tspan></text>
<text x="53.8" y="330.3" font-size="12.8" fill="#2a2a3a" stroke="#2a2a3a" stroke-width="0.25">ε<tspan font-size="10.0" dx="0.6" dy="1.8">2</tspan></text>
<text x="14.50" y="370.70" font-size="15.20" font-weight="normal" text-anchor="middle" fill="#111" >(c)</text>
<rect x="0" y="0" width="1" height="1" transform="matrix(79.400,14.500,0,19.800,25.300,372.500)" fill="url(#GF)"/>
<rect x="0" y="0.0000" width="1" height="1.0000" transform="matrix(79.400,14.500,0,19.800,25.300,372.500)" fill="url(#GL)"/>
<rect x="0" y="0.0000" width="1" height="1.0000" transform="matrix(8.300,-5.600,0,19.800,104.700,387.000)" fill="url(#GR)"/>
<rect x="0" y="0" width="1" height="1" transform="matrix(79.400,14.500,8.300,-5.600,25.300,372.500)" fill="url(#GT)"/>
<line x1="25.30" y1="372.50" x2="104.70" y2="387.00" stroke="#b0b0b0" stroke-width="0.9" stroke-opacity="0.8"/>
<g transform="translate(41.00,393.80) skewY(10.35)"><text x="0" y="0" font-size="12.2" fill="#3a3a3a" stroke="#3a3a3a" stroke-width="0.2">ε</text><text x="5.90" y="2.40" font-size="7.0" fill="#3a3a3a">3</text><text x="10.80" y="0" font-size="13.5" fill="#3a3a3a" stroke="#3a3a3a" stroke-width="0.2">=</text><text x="19.00" y="0" font-size="16.5" font-style="italic" fill="#e6a01e" stroke="#e6a01e" stroke-width="0.2" letter-spacing="1.30">2.1</text></g>
<circle cx="63.2" cy="404.5" r="1.3" fill="#444"/>
<circle cx="63.2" cy="410.9" r="1.3" fill="#444"/>
<circle cx="63.2" cy="417.3" r="1.3" fill="#444"/>
<rect x="0" y="0" width="1" height="1" transform="matrix(79.500,14.600,0,80.200,25.200,422.300)" fill="url(#GF)"/>
<rect x="0" y="0.0000" width="1" height="0.2500" transform="matrix(79.500,14.600,0,80.200,25.200,422.300)" fill="url(#GL)"/>
<rect x="0" y="0.2500" width="1" height="0.2500" transform="matrix(79.500,14.600,0,80.200,25.200,422.300)" fill="url(#GL)"/>
<rect x="0" y="0.5000" width="1" height="0.2500" transform="matrix(79.500,14.600,0,80.200,25.200,422.300)" fill="url(#GL)"/>
<rect x="0" y="0.7500" width="1" height="0.2500" transform="matrix(79.500,14.600,0,80.200,25.200,422.300)" fill="url(#GL)"/>
<rect x="0" y="0.0000" width="1" height="0.2500" transform="matrix(8.500,-6.000,0,80.200,104.700,436.900)" fill="url(#GR)"/>
<rect x="0" y="0.2500" width="1" height="0.2500" transform="matrix(8.500,-6.000,0,80.200,104.700,436.900)" fill="url(#GR)"/>
<rect x="0" y="0.5000" width="1" height="0.2500" transform="matrix(8.500,-6.000,0,80.200,104.700,436.900)" fill="url(#GR)"/>
<rect x="0" y="0.7500" width="1" height="0.2500" transform="matrix(8.500,-6.000,0,80.200,104.700,436.900)" fill="url(#GR)"/>
<line x1="0" y1="0.2500" x2="1" y2="0.2500" transform="matrix(79.500,14.600,0,80.200,25.200,422.300)" stroke="#b0b0b0" stroke-width="0.8" stroke-opacity="0.75" vector-effect="non-scaling-stroke"/>
<line x1="0" y1="0.2500" x2="1" y2="0.2500" transform="matrix(8.500,-6.000,0,80.200,104.700,436.900)" stroke="#b0b0b0" stroke-width="0.9" vector-effect="non-scaling-stroke"/>
<line x1="0" y1="0.5000" x2="1" y2="0.5000" transform="matrix(79.500,14.600,0,80.200,25.200,422.300)" stroke="#b0b0b0" stroke-width="0.8" stroke-opacity="0.75" vector-effect="non-scaling-stroke"/>
<line x1="0" y1="0.5000" x2="1" y2="0.5000" transform="matrix(8.500,-6.000,0,80.200,104.700,436.900)" stroke="#b0b0b0" stroke-width="0.9" vector-effect="non-scaling-stroke"/>
<line x1="0" y1="0.7500" x2="1" y2="0.7500" transform="matrix(79.500,14.600,0,80.200,25.200,422.300)" stroke="#b0b0b0" stroke-width="0.8" stroke-opacity="0.75" vector-effect="non-scaling-stroke"/>
<line x1="0" y1="0.7500" x2="1" y2="0.7500" transform="matrix(8.500,-6.000,0,80.200,104.700,436.900)" stroke="#b0b0b0" stroke-width="0.9" vector-effect="non-scaling-stroke"/>
<rect x="0" y="0.7500" width="1" height="0.2500" transform="matrix(79.500,14.600,0,80.200,25.200,422.300)" fill="#8a8484" fill-opacity="0.55"/>
<rect x="0" y="0" width="1" height="1" transform="matrix(79.500,14.600,8.500,-6.000,25.200,422.300)" fill="url(#GT)"/>
<line x1="25.20" y1="422.30" x2="104.70" y2="436.90" stroke="#b0b0b0" stroke-width="0.9" stroke-opacity="0.8"/>
<text x="56.7" y="441.7" font-size="12.8" fill="#3a3a3a" stroke="#3a3a3a" stroke-width="0.25">ε<tspan font-size="10.0" dx="0.6" dy="1.8">3</tspan></text>
<text x="56.7" y="461.3" font-size="12.8" fill="#3a3a3a" stroke="#3a3a3a" stroke-width="0.25">ε<tspan font-size="10.0" dx="0.6" dy="1.8">3</tspan></text>
<text x="56.7" y="480.5" font-size="12.8" fill="#3a3a3a" stroke="#3a3a3a" stroke-width="0.25">ε<tspan font-size="10.0" dx="0.6" dy="1.8">3</tspan></text>
<text x="56.7" y="502.3" font-size="12.8" fill="#3a3a3a" stroke="#3a3a3a" stroke-width="0.25">ε<tspan font-size="10.0" dx="0.6" dy="1.8">3</tspan></text>
</svg></body></html>
